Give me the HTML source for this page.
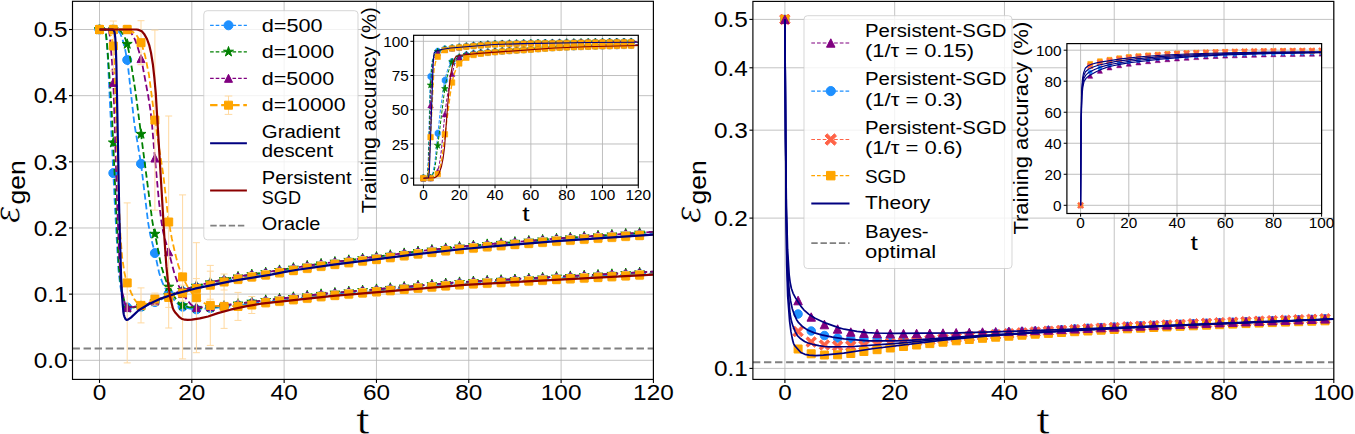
<!DOCTYPE html><html><head><meta charset="utf-8"><style>html,body{margin:0;padding:0;background:#fff;overflow:hidden}svg{display:block}text{font-family:"Liberation Sans",sans-serif;fill:#000}</style></head><body>
<svg width="1355" height="434" viewBox="0 0 1355 434">
<defs>
<clipPath id="cL"><rect x="72.5" y="1.3" width="580.9" height="378.1"/></clipPath>
<clipPath id="cLI"><rect x="413.6" y="35.3" width="224.7" height="149.8"/></clipPath>
<clipPath id="cR"><rect x="752.9" y="1.4" width="580.9" height="378"/></clipPath>
<clipPath id="cRI"><rect x="1066.9" y="43.6" width="254.7" height="169.9"/></clipPath>
</defs>
<rect width="1355" height="434" fill="#fff"/>
<line x1="99.5" y1="1.3" x2="99.5" y2="379.4" stroke="#b8b8b8" stroke-width="0.85"/>
<line x1="191.82" y1="1.3" x2="191.82" y2="379.4" stroke="#b8b8b8" stroke-width="0.85"/>
<line x1="284.14" y1="1.3" x2="284.14" y2="379.4" stroke="#b8b8b8" stroke-width="0.85"/>
<line x1="376.46" y1="1.3" x2="376.46" y2="379.4" stroke="#b8b8b8" stroke-width="0.85"/>
<line x1="468.78" y1="1.3" x2="468.78" y2="379.4" stroke="#b8b8b8" stroke-width="0.85"/>
<line x1="561.1" y1="1.3" x2="561.1" y2="379.4" stroke="#b8b8b8" stroke-width="0.85"/>
<line x1="653.42" y1="1.3" x2="653.42" y2="379.4" stroke="#b8b8b8" stroke-width="0.85"/>
<line x1="72.5" y1="360.3" x2="653.4" y2="360.3" stroke="#b8b8b8" stroke-width="0.85"/>
<line x1="72.5" y1="294.14" x2="653.4" y2="294.14" stroke="#b8b8b8" stroke-width="0.85"/>
<line x1="72.5" y1="227.98" x2="653.4" y2="227.98" stroke="#b8b8b8" stroke-width="0.85"/>
<line x1="72.5" y1="161.82" x2="653.4" y2="161.82" stroke="#b8b8b8" stroke-width="0.85"/>
<line x1="72.5" y1="95.66" x2="653.4" y2="95.66" stroke="#b8b8b8" stroke-width="0.85"/>
<line x1="72.5" y1="29.5" x2="653.4" y2="29.5" stroke="#b8b8b8" stroke-width="0.85"/>
<g clip-path="url(#cL)">
<line x1="72.5" y1="348.39" x2="653.4" y2="348.39" stroke="#808080" stroke-width="2" stroke-dasharray="7.4,3.66"/>
<path d="M99.5,29.5L105.1,29.6L105.8,32.3L106.5,38.9L107.7,55.5L114.7,201.5L118.4,269L120,283.6L121.8,294.6L124.7,303.8L125.9,306.3L126.9,307.3L137.6,307L144.4,306.1L156.5,301.5L168,296.4L180.1,292.3L199.2,286.9L226,280.7L243.9,277.3L323.3,265L420,252.8L469.4,247.4L560.5,239.9L653.4,233.6" fill="none" stroke="#1e90ff" stroke-width="1.8" stroke-dasharray="6.5,3.2" stroke-linejoin="round"/>
<path d="M99.5,29.5L116.5,29.7L118.1,30.9L120.4,33.6L122.4,38.9L125.3,50.2L127.7,63.5L134.3,123.4L141.1,164.4L148.1,222.3L150.3,235L154.7,252.3L159,272.3L160.7,278L162.8,283.5L166.6,290.5L172,297.5L177.3,303.3L179.5,305.1L181.7,306.4L186.6,307.9L191.3,308.9L195.2,309.3L199.3,309.2L209.8,308.1L227.3,306.7L266.2,301.7L327.5,295.1L451.3,284.5L475,282.9L653.4,273.3" fill="none" stroke="#1e90ff" stroke-width="1.8" stroke-dasharray="6.5,3.2" stroke-linejoin="round"/>
<path d="M95,29.5a4.5,4.5 0 1,0 9,0a4.5,4.5 0 1,0 -9,0ZM108.8,173.1a4.5,4.5 0 1,0 9,0a4.5,4.5 0 1,0 -9,0ZM122.7,307.4a4.5,4.5 0 1,0 9,0a4.5,4.5 0 1,0 -9,0ZM136.5,306.7a4.5,4.5 0 1,0 9,0a4.5,4.5 0 1,0 -9,0ZM150.4,302.1a4.5,4.5 0 1,0 9,0a4.5,4.5 0 1,0 -9,0ZM164.2,296.1a4.5,4.5 0 1,0 9,0a4.5,4.5 0 1,0 -9,0ZM178.1,291.5a4.5,4.5 0 1,0 9,0a4.5,4.5 0 1,0 -9,0ZM191.9,287.6a4.5,4.5 0 1,0 9,0a4.5,4.5 0 1,0 -9,0ZM205.8,284.2a4.5,4.5 0 1,0 9,0a4.5,4.5 0 1,0 -9,0ZM219.6,281.1a4.5,4.5 0 1,0 9,0a4.5,4.5 0 1,0 -9,0ZM233.5,278.3a4.5,4.5 0 1,0 9,0a4.5,4.5 0 1,0 -9,0ZM247.3,276a4.5,4.5 0 1,0 9,0a4.5,4.5 0 1,0 -9,0ZM261.2,274.1a4.5,4.5 0 1,0 9,0a4.5,4.5 0 1,0 -9,0ZM275,271.8a4.5,4.5 0 1,0 9,0a4.5,4.5 0 1,0 -9,0ZM288.9,269.5a4.5,4.5 0 1,0 9,0a4.5,4.5 0 1,0 -9,0ZM302.7,267.3a4.5,4.5 0 1,0 9,0a4.5,4.5 0 1,0 -9,0ZM316.6,265.3a4.5,4.5 0 1,0 9,0a4.5,4.5 0 1,0 -9,0ZM330.4,263.4a4.5,4.5 0 1,0 9,0a4.5,4.5 0 1,0 -9,0ZM344.3,261.7a4.5,4.5 0 1,0 9,0a4.5,4.5 0 1,0 -9,0ZM358.1,260.1a4.5,4.5 0 1,0 9,0a4.5,4.5 0 1,0 -9,0ZM372,258.4a4.5,4.5 0 1,0 9,0a4.5,4.5 0 1,0 -9,0ZM385.8,256.6a4.5,4.5 0 1,0 9,0a4.5,4.5 0 1,0 -9,0ZM399.7,254.8a4.5,4.5 0 1,0 9,0a4.5,4.5 0 1,0 -9,0ZM413.5,253a4.5,4.5 0 1,0 9,0a4.5,4.5 0 1,0 -9,0ZM427.4,251.4a4.5,4.5 0 1,0 9,0a4.5,4.5 0 1,0 -9,0ZM441.2,249.9a4.5,4.5 0 1,0 9,0a4.5,4.5 0 1,0 -9,0ZM455,248.4a4.5,4.5 0 1,0 9,0a4.5,4.5 0 1,0 -9,0ZM468.9,247.1a4.5,4.5 0 1,0 9,0a4.5,4.5 0 1,0 -9,0ZM482.7,245.8a4.5,4.5 0 1,0 9,0a4.5,4.5 0 1,0 -9,0ZM496.6,244.7a4.5,4.5 0 1,0 9,0a4.5,4.5 0 1,0 -9,0ZM510.4,243.5a4.5,4.5 0 1,0 9,0a4.5,4.5 0 1,0 -9,0ZM524.3,242.4a4.5,4.5 0 1,0 9,0a4.5,4.5 0 1,0 -9,0ZM538.1,241.3a4.5,4.5 0 1,0 9,0a4.5,4.5 0 1,0 -9,0ZM552,240.2a4.5,4.5 0 1,0 9,0a4.5,4.5 0 1,0 -9,0ZM565.8,239.2a4.5,4.5 0 1,0 9,0a4.5,4.5 0 1,0 -9,0ZM579.7,238.2a4.5,4.5 0 1,0 9,0a4.5,4.5 0 1,0 -9,0ZM593.5,237.2a4.5,4.5 0 1,0 9,0a4.5,4.5 0 1,0 -9,0ZM607.4,236.3a4.5,4.5 0 1,0 9,0a4.5,4.5 0 1,0 -9,0ZM621.2,235.4a4.5,4.5 0 1,0 9,0a4.5,4.5 0 1,0 -9,0ZM635.1,234.5a4.5,4.5 0 1,0 9,0a4.5,4.5 0 1,0 -9,0ZM95,29.5a4.5,4.5 0 1,0 9,0a4.5,4.5 0 1,0 -9,0ZM108.8,29.5a4.5,4.5 0 1,0 9,0a4.5,4.5 0 1,0 -9,0ZM122.7,59.9a4.5,4.5 0 1,0 9,0a4.5,4.5 0 1,0 -9,0ZM136.5,163.8a4.5,4.5 0 1,0 9,0a4.5,4.5 0 1,0 -9,0ZM150.4,253.1a4.5,4.5 0 1,0 9,0a4.5,4.5 0 1,0 -9,0ZM164.2,293.5a4.5,4.5 0 1,0 9,0a4.5,4.5 0 1,0 -9,0ZM178.1,306.7a4.5,4.5 0 1,0 9,0a4.5,4.5 0 1,0 -9,0ZM191.9,309.4a4.5,4.5 0 1,0 9,0a4.5,4.5 0 1,0 -9,0ZM205.8,308a4.5,4.5 0 1,0 9,0a4.5,4.5 0 1,0 -9,0ZM219.6,307a4.5,4.5 0 1,0 9,0a4.5,4.5 0 1,0 -9,0ZM233.5,305.4a4.5,4.5 0 1,0 9,0a4.5,4.5 0 1,0 -9,0ZM247.3,303.5a4.5,4.5 0 1,0 9,0a4.5,4.5 0 1,0 -9,0ZM261.2,301.7a4.5,4.5 0 1,0 9,0a4.5,4.5 0 1,0 -9,0ZM275,300.3a4.5,4.5 0 1,0 9,0a4.5,4.5 0 1,0 -9,0ZM288.9,298.8a4.5,4.5 0 1,0 9,0a4.5,4.5 0 1,0 -9,0ZM302.7,297.2a4.5,4.5 0 1,0 9,0a4.5,4.5 0 1,0 -9,0ZM316.6,295.7a4.5,4.5 0 1,0 9,0a4.5,4.5 0 1,0 -9,0ZM330.4,294.4a4.5,4.5 0 1,0 9,0a4.5,4.5 0 1,0 -9,0ZM344.3,293.2a4.5,4.5 0 1,0 9,0a4.5,4.5 0 1,0 -9,0ZM358.1,292a4.5,4.5 0 1,0 9,0a4.5,4.5 0 1,0 -9,0ZM372,290.8a4.5,4.5 0 1,0 9,0a4.5,4.5 0 1,0 -9,0ZM385.8,289.6a4.5,4.5 0 1,0 9,0a4.5,4.5 0 1,0 -9,0ZM399.7,288.4a4.5,4.5 0 1,0 9,0a4.5,4.5 0 1,0 -9,0ZM413.5,287.2a4.5,4.5 0 1,0 9,0a4.5,4.5 0 1,0 -9,0ZM427.4,286.1a4.5,4.5 0 1,0 9,0a4.5,4.5 0 1,0 -9,0ZM441.2,284.9a4.5,4.5 0 1,0 9,0a4.5,4.5 0 1,0 -9,0ZM455,283.8a4.5,4.5 0 1,0 9,0a4.5,4.5 0 1,0 -9,0ZM468.9,283a4.5,4.5 0 1,0 9,0a4.5,4.5 0 1,0 -9,0ZM482.7,282.2a4.5,4.5 0 1,0 9,0a4.5,4.5 0 1,0 -9,0ZM496.6,281.6a4.5,4.5 0 1,0 9,0a4.5,4.5 0 1,0 -9,0ZM510.4,280.9a4.5,4.5 0 1,0 9,0a4.5,4.5 0 1,0 -9,0ZM524.3,280.1a4.5,4.5 0 1,0 9,0a4.5,4.5 0 1,0 -9,0ZM538.1,279.3a4.5,4.5 0 1,0 9,0a4.5,4.5 0 1,0 -9,0ZM552,278.5a4.5,4.5 0 1,0 9,0a4.5,4.5 0 1,0 -9,0ZM565.8,277.8a4.5,4.5 0 1,0 9,0a4.5,4.5 0 1,0 -9,0ZM579.7,277.1a4.5,4.5 0 1,0 9,0a4.5,4.5 0 1,0 -9,0ZM593.5,276.4a4.5,4.5 0 1,0 9,0a4.5,4.5 0 1,0 -9,0ZM607.4,275.7a4.5,4.5 0 1,0 9,0a4.5,4.5 0 1,0 -9,0ZM621.2,274.9a4.5,4.5 0 1,0 9,0a4.5,4.5 0 1,0 -9,0ZM635.1,274.1a4.5,4.5 0 1,0 9,0a4.5,4.5 0 1,0 -9,0Z" fill="#1e90ff" stroke="#1e90ff" stroke-width="1.0"/>
<path d="M99.5,29.5L105,29.5L105.2,29.7L105.9,33.3L107.1,44.5L110.2,86.2L112.1,118.6L118.7,265.4L120.2,279.9L121.8,290.7L125,303.9L126.1,306.9L127,308L134,307.4L144.7,305.1L156.2,300.9L172.4,294L186.1,289L197.5,285.6L216.1,281.2L230.1,278.1L241.4,276L317,264.2L418.9,251.2L468,245.9L559.6,238.3L653.4,231.9" fill="none" stroke="#008000" stroke-width="1.8" stroke-dasharray="6.5,3.2" stroke-linejoin="round"/>
<path d="M99.5,29.5L118,29.5L119.1,29.8L121.1,31.7L123.7,35.2L125.4,39L127.4,44.7L130.4,59.1L135.6,92.4L152.2,220.3L153.5,228L156,239L160.2,261.1L161.6,267L164,275L166.2,281.1L168.3,286L172.8,294.2L176.2,299.6L179.3,303.2L182.1,305.2L188.5,307.1L194.1,307.9L200.3,308L210.5,307.4L264.1,300.3L323.1,293.9L449,283L474.6,281.2L653.4,271.6" fill="none" stroke="#008000" stroke-width="1.8" stroke-dasharray="6.5,3.2" stroke-linejoin="round"/>
<path d="M99.5,24.2L98.3,27.9L94.5,27.9L97.6,30.1L96.4,33.7L99.5,31.5L102.6,33.7L101.4,30.1L104.5,27.9L100.7,27.9ZM113.3,137.4L112.2,141L108.4,141L111.4,143.3L110.3,146.9L113.3,144.6L116.4,146.9L115.3,143.3L118.3,141L114.5,141ZM127.2,302.8L126,306.4L122.2,306.4L125.3,308.7L124.1,312.3L127.2,310L130.3,312.3L129.1,308.7L132.2,306.4L128.4,306.4ZM141,300.8L139.9,304.4L136.1,304.4L139.1,306.7L138,310.3L141,308.1L144.1,310.3L143,306.7L146,304.4L142.2,304.4ZM154.9,296.2L153.7,299.8L149.9,299.8L153,302L151.8,305.7L154.9,303.4L158,305.7L156.8,302L159.9,299.8L156.1,299.8ZM168.7,290.2L167.6,293.8L163.7,293.8L166.8,296.1L165.7,299.7L168.7,297.5L171.8,299.7L170.6,296.1L173.7,293.8L169.9,293.8ZM182.6,285L181.4,288.6L177.6,288.6L180.7,290.8L179.5,294.5L182.6,292.2L185.7,294.5L184.5,290.8L187.6,288.6L183.8,288.6ZM196.4,280.7L195.3,284.3L191.4,284.3L194.5,286.5L193.4,290.2L196.4,287.9L199.5,290.2L198.3,286.5L201.4,284.3L197.6,284.3ZM210.3,277.3L209.1,280.9L205.3,280.9L208.4,283.2L207.2,286.8L210.3,284.6L213.4,286.8L212.2,283.2L215.3,280.9L211.5,280.9ZM224.1,274.2L223,277.8L219.1,277.8L222.2,280L221,283.6L224.1,281.4L227.2,283.6L226,280L229.1,277.8L225.3,277.8ZM238,271.4L236.8,275L233,275L236.1,277.2L234.9,280.9L238,278.6L241.1,280.9L239.9,277.2L243,275L239.2,275ZM251.8,269.1L250.6,272.8L246.8,272.8L249.9,275L248.7,278.6L251.8,276.4L254.9,278.6L253.7,275L256.8,272.8L253,272.8ZM265.7,267.2L264.5,270.8L260.7,270.8L263.8,273L262.6,276.6L265.7,274.4L268.8,276.6L267.6,273L270.7,270.8L266.9,270.8ZM279.5,264.9L278.3,268.5L274.5,268.5L277.6,270.8L276.4,274.4L279.5,272.1L282.6,274.4L281.4,270.8L284.5,268.5L280.7,268.5ZM293.4,262.6L292.2,266.2L288.4,266.2L291.5,268.5L290.3,272.1L293.4,269.8L296.5,272.1L295.3,268.5L298.4,266.2L294.6,266.2ZM307.2,260.4L306,264.1L302.2,264.1L305.3,266.3L304.1,269.9L307.2,267.7L310.3,269.9L309.1,266.3L312.2,264.1L308.4,264.1ZM321.1,258.4L319.9,262L316.1,262L319.2,264.3L318,267.9L321.1,265.7L324.2,267.9L323,264.3L326.1,262L322.2,262ZM334.9,256.5L333.7,260.2L329.9,260.2L333,262.4L331.8,266L334.9,263.8L338,266L336.8,262.4L339.9,260.2L336.1,260.2ZM348.8,254.8L347.6,258.4L343.8,258.4L346.9,260.7L345.7,264.3L348.8,262.1L351.8,264.3L350.7,260.7L353.8,258.4L349.9,258.4ZM362.6,253.2L361.4,256.8L357.6,256.8L360.7,259.1L359.5,262.7L362.6,260.4L365.7,262.7L364.5,259.1L367.6,256.8L363.8,256.8ZM376.5,251.5L375.3,255.1L371.5,255.1L374.6,257.4L373.4,261L376.5,258.8L379.5,261L378.4,257.4L381.5,255.1L377.6,255.1ZM390.3,249.7L389.1,253.3L385.3,253.3L388.4,255.6L387.2,259.2L390.3,257L393.4,259.2L392.2,255.6L395.3,253.3L391.5,253.3ZM404.2,247.9L403,251.5L399.2,251.5L402.2,253.7L401.1,257.4L404.2,255.1L407.2,257.4L406.1,253.7L409.1,251.5L405.3,251.5ZM418,246.1L416.8,249.7L413,249.7L416.1,252L414.9,255.6L418,253.4L421.1,255.6L419.9,252L423,249.7L419.2,249.7ZM431.9,244.5L430.7,248.1L426.9,248.1L429.9,250.4L428.8,254L431.9,251.7L434.9,254L433.8,250.4L436.8,248.1L433,248.1ZM445.7,242.9L444.5,246.6L440.7,246.6L443.8,248.8L442.6,252.4L445.7,250.2L448.8,252.4L447.6,248.8L450.7,246.6L446.9,246.6ZM459.5,241.5L458.4,245.1L454.6,245.1L457.6,247.4L456.5,251L459.5,248.8L462.6,251L461.5,247.4L464.5,245.1L460.7,245.1ZM473.4,240.2L472.2,243.8L468.4,243.8L471.5,246L470.3,249.7L473.4,247.4L476.5,249.7L475.3,246L478.4,243.8L474.6,243.8ZM487.2,238.9L486.1,242.6L482.3,242.6L485.3,244.8L484.2,248.4L487.2,246.2L490.3,248.4L489.2,244.8L492.2,242.6L488.4,242.6ZM501.1,237.8L499.9,241.4L496.1,241.4L499.2,243.6L498,247.3L501.1,245L504.2,247.3L503,243.6L506.1,241.4L502.3,241.4ZM514.9,236.6L513.8,240.3L509.9,240.3L513,242.5L511.9,246.1L514.9,243.9L518,246.1L516.8,242.5L519.9,240.3L516.1,240.3ZM528.8,235.5L527.6,239.1L523.8,239.1L526.9,241.4L525.7,245L528.8,242.8L531.9,245L530.7,241.4L533.8,239.1L530,239.1ZM542.6,234.4L541.5,238L537.6,238L540.7,240.3L539.6,243.9L542.6,241.7L545.7,243.9L544.5,240.3L547.6,238L543.8,238ZM556.5,233.3L555.3,237L551.5,237L554.6,239.2L553.4,242.8L556.5,240.6L559.6,242.8L558.4,239.2L561.5,237L557.7,237ZM570.3,232.3L569.2,235.9L565.3,235.9L568.4,238.2L567.2,241.8L570.3,239.6L573.4,241.8L572.2,238.2L575.3,235.9L571.5,235.9ZM584.2,231.3L583,234.9L579.2,234.9L582.3,237.2L581.1,240.8L584.2,238.5L587.3,240.8L586.1,237.2L589.2,234.9L585.4,234.9ZM598,230.3L596.8,233.9L593,233.9L596.1,236.2L594.9,239.8L598,237.6L601.1,239.8L599.9,236.2L603,233.9L599.2,233.9ZM611.9,229.4L610.7,233L606.9,233L610,235.2L608.8,238.9L611.9,236.6L615,238.9L613.8,235.2L616.9,233L613.1,233ZM625.7,228.4L624.5,232.1L620.7,232.1L623.8,234.3L622.6,237.9L625.7,235.7L628.8,237.9L627.6,234.3L630.7,232.1L626.9,232.1ZM639.6,227.6L638.4,231.2L634.6,231.2L637.7,233.4L636.5,237.1L639.6,234.8L642.7,237.1L641.5,233.4L644.6,231.2L640.8,231.2ZM99.5,24.2L98.3,27.9L94.5,27.9L97.6,30.1L96.4,33.7L99.5,31.5L102.6,33.7L101.4,30.1L104.5,27.9L100.7,27.9ZM113.3,24.2L112.2,27.9L108.4,27.9L111.4,30.1L110.3,33.7L113.3,31.5L116.4,33.7L115.3,30.1L118.3,27.9L114.5,27.9ZM127.2,38.8L126,42.4L122.2,42.4L125.3,44.7L124.1,48.3L127.2,46.1L130.3,48.3L129.1,44.7L132.2,42.4L128.4,42.4ZM141,128.8L139.9,132.4L136.1,132.4L139.1,134.7L138,138.3L141,136L144.1,138.3L143,134.7L146,132.4L142.2,132.4ZM154.9,228.7L153.7,232.3L149.9,232.3L153,234.6L151.8,238.2L154.9,236L158,238.2L156.8,234.6L159.9,232.3L156.1,232.3ZM168.7,281.6L167.6,285.2L163.7,285.2L166.8,287.5L165.7,291.1L168.7,288.9L171.8,291.1L170.6,287.5L173.7,285.2L169.9,285.2ZM182.6,300.1L181.4,303.8L177.6,303.8L180.7,306L179.5,309.6L182.6,307.4L185.7,309.6L184.5,306L187.6,303.8L183.8,303.8ZM196.4,302.8L195.3,306.4L191.4,306.4L194.5,308.7L193.4,312.3L196.4,310L199.5,312.3L198.3,308.7L201.4,306.4L197.6,306.4ZM210.3,302.1L209.1,305.7L205.3,305.7L208.4,308L207.2,311.6L210.3,309.4L213.4,311.6L212.2,308L215.3,305.7L211.5,305.7ZM224.1,300.5L223,304.1L219.1,304.1L222.2,306.3L221,310L224.1,307.7L227.2,310L226,306.3L229.1,304.1L225.3,304.1ZM238,298.5L236.8,302.1L233,302.1L236.1,304.4L234.9,308L238,305.7L241.1,308L239.9,304.4L243,302.1L239.2,302.1ZM251.8,296.6L250.6,300.2L246.8,300.2L249.9,302.5L248.7,306.1L251.8,303.8L254.9,306.1L253.7,302.5L256.8,300.2L253,300.2ZM265.7,294.8L264.5,298.5L260.7,298.5L263.8,300.7L262.6,304.3L265.7,302.1L268.8,304.3L267.6,300.7L270.7,298.5L266.9,298.5ZM279.5,293.3L278.3,297L274.5,297L277.6,299.2L276.4,302.8L279.5,300.6L282.6,302.8L281.4,299.2L284.5,297L280.7,297ZM293.4,291.8L292.2,295.5L288.4,295.5L291.5,297.7L290.3,301.3L293.4,299.1L296.5,301.3L295.3,297.7L298.4,295.5L294.6,295.5ZM307.2,290.3L306,293.9L302.2,293.9L305.3,296.2L304.1,299.8L307.2,297.6L310.3,299.8L309.1,296.2L312.2,293.9L308.4,293.9ZM321.1,288.8L319.9,292.4L316.1,292.4L319.2,294.7L318,298.3L321.1,296.1L324.2,298.3L323,294.7L326.1,292.4L322.2,292.4ZM334.9,287.5L333.7,291.1L329.9,291.1L333,293.3L331.8,297L334.9,294.7L338,297L336.8,293.3L339.9,291.1L336.1,291.1ZM348.8,286.2L347.6,289.9L343.8,289.9L346.9,292.1L345.7,295.7L348.8,293.5L351.8,295.7L350.7,292.1L353.8,289.9L349.9,289.9ZM362.6,285.1L361.4,288.7L357.6,288.7L360.7,291L359.5,294.6L362.6,292.3L365.7,294.6L364.5,291L367.6,288.7L363.8,288.7ZM376.5,283.9L375.3,287.6L371.5,287.6L374.6,289.8L373.4,293.4L376.5,291.2L379.5,293.4L378.4,289.8L381.5,287.6L377.6,287.6ZM390.3,282.7L389.1,286.4L385.3,286.4L388.4,288.6L387.2,292.2L390.3,290L393.4,292.2L392.2,288.6L395.3,286.4L391.5,286.4ZM404.2,281.5L403,285.1L399.2,285.1L402.2,287.4L401.1,291L404.2,288.8L407.2,291L406.1,287.4L409.1,285.1L405.3,285.1ZM418,280.3L416.8,284L413,284L416.1,286.2L414.9,289.8L418,287.6L421.1,289.8L419.9,286.2L423,284L419.2,284ZM431.9,279.2L430.7,282.8L426.9,282.8L429.9,285.1L428.8,288.7L431.9,286.4L434.9,288.7L433.8,285.1L436.8,282.8L433,282.8ZM445.7,278L444.5,281.6L440.7,281.6L443.8,283.9L442.6,287.5L445.7,285.3L448.8,287.5L447.6,283.9L450.7,281.6L446.9,281.6ZM459.5,276.9L458.4,280.6L454.6,280.6L457.6,282.8L456.5,286.4L459.5,284.2L462.6,286.4L461.5,282.8L464.5,280.6L460.7,280.6ZM473.4,276L472.2,279.7L468.4,279.7L471.5,281.9L470.3,285.5L473.4,283.3L476.5,285.5L475.3,281.9L478.4,279.7L474.6,279.7ZM487.2,275.3L486.1,279L482.3,279L485.3,281.2L484.2,284.8L487.2,282.6L490.3,284.8L489.2,281.2L492.2,279L488.4,279ZM501.1,274.7L499.9,278.3L496.1,278.3L499.2,280.6L498,284.2L501.1,281.9L504.2,284.2L503,280.6L506.1,278.3L502.3,278.3ZM514.9,274L513.8,277.6L509.9,277.6L513,279.9L511.9,283.5L514.9,281.3L518,283.5L516.8,279.9L519.9,277.6L516.1,277.6ZM528.8,273.2L527.6,276.9L523.8,276.9L526.9,279.1L525.7,282.7L528.8,280.5L531.9,282.7L530.7,279.1L533.8,276.9L530,276.9ZM542.6,272.4L541.5,276L537.6,276L540.7,278.3L539.6,281.9L542.6,279.7L545.7,281.9L544.5,278.3L547.6,276L543.8,276ZM556.5,271.6L555.3,275.2L551.5,275.2L554.6,277.5L553.4,281.1L556.5,278.9L559.6,281.1L558.4,277.5L561.5,275.2L557.7,275.2ZM570.3,270.9L569.2,274.5L565.3,274.5L568.4,276.7L567.2,280.4L570.3,278.1L573.4,280.4L572.2,276.7L575.3,274.5L571.5,274.5ZM584.2,270.2L583,273.8L579.2,273.8L582.3,276.1L581.1,279.7L584.2,277.5L587.3,279.7L586.1,276.1L589.2,273.8L585.4,273.8ZM598,269.5L596.8,273.1L593,273.1L596.1,275.4L594.9,279L598,276.8L601.1,279L599.9,275.4L603,273.1L599.2,273.1ZM611.9,268.8L610.7,272.4L606.9,272.4L610,274.7L608.8,278.3L611.9,276L615,278.3L613.8,274.7L616.9,272.4L613.1,272.4ZM625.7,268L624.5,271.7L620.7,271.7L623.8,273.9L622.6,277.5L625.7,275.3L628.8,277.5L627.6,273.9L630.7,271.7L626.9,271.7ZM639.6,267.2L638.4,270.9L634.6,270.9L637.7,273.1L636.5,276.7L639.6,274.5L642.7,276.7L641.5,273.1L644.6,270.9L640.8,270.9Z" fill="#008000" stroke="#008000" stroke-width="1.0"/>
<path d="M99.5,29.5L108.8,29.6L109.8,35.9L112.1,62.5L113.5,86.6L116.9,196.1L119.3,259.6L120.8,280.3L122.2,292.2L124.9,303.4L126,306.2L127,307.3L133.7,306.8L144,304.7L189,288.1L199.7,285.1L220,280.3L242.3,275.9L318.9,264L419.3,251.2L468.5,245.9L560,238.3L653.4,231.9" fill="none" stroke="#800080" stroke-width="1.8" stroke-dasharray="6.5,3.2" stroke-linejoin="round"/>
<path d="M99.5,29.5L127.9,29.7L130.2,31.6L133.5,36.6L135.1,39.9L137,44.8L140.1,55.2L142.3,64.3L148.2,95.9L150.3,109.3L151.9,122.8L153.9,146.9L159.1,202.9L161.4,221.5L163.3,232.6L165,239.3L168.7,251.8L174.4,273.5L179.1,286.7L181.9,292.6L187.2,300.2L191,304.6L194.3,306.9L196.1,307.4L199.2,307.3L215.3,306.3L232.5,304.4L266.9,300L326.5,293.5L454.6,282.6L475.3,281.2L653.4,271.6" fill="none" stroke="#800080" stroke-width="1.8" stroke-dasharray="6.5,3.2" stroke-linejoin="round"/>
<path d="M99.5,25.5L103.5,33.5L95.5,33.5ZM113.3,78.4L117.3,86.4L109.3,86.4ZM127.2,303.4L131.2,311.4L123.2,311.4ZM141,301.4L145,309.4L137,309.4ZM154.9,296.8L158.9,304.8L150.9,304.8ZM168.7,291.5L172.7,299.5L164.7,299.5ZM182.6,286.3L186.6,294.3L178.6,294.3ZM196.4,281.9L200.4,289.9L192.4,289.9ZM210.3,278.6L214.3,286.6L206.3,286.6ZM224.1,275.4L228.1,283.4L220.1,283.4ZM238,272.6L242,280.6L234,280.6ZM251.8,270.4L255.8,278.4L247.8,278.4ZM265.7,268.4L269.7,276.4L261.7,276.4ZM279.5,266.1L283.5,274.1L275.5,274.1ZM293.4,263.8L297.4,271.8L289.4,271.8ZM307.2,261.7L311.2,269.7L303.2,269.7ZM321.1,259.7L325.1,267.7L317.1,267.7ZM334.9,257.8L338.9,265.8L330.9,265.8ZM348.8,256.1L352.8,264.1L344.8,264.1ZM362.6,254.4L366.6,262.4L358.6,262.4ZM376.5,252.8L380.5,260.8L372.5,260.8ZM390.3,251L394.3,259L386.3,259ZM404.2,249.1L408.2,257.1L400.2,257.1ZM418,247.4L422,255.4L414,255.4ZM431.9,245.7L435.9,253.7L427.9,253.7ZM445.7,244.2L449.7,252.2L441.7,252.2ZM459.5,242.8L463.5,250.8L455.5,250.8ZM473.4,241.4L477.4,249.4L469.4,249.4ZM487.2,240.2L491.2,248.2L483.2,248.2ZM501.1,239L505.1,247L497.1,247ZM514.9,237.9L518.9,245.9L510.9,245.9ZM528.8,236.7L532.8,244.7L524.8,244.7ZM542.6,235.7L546.6,243.7L538.6,243.7ZM556.5,234.6L560.5,242.6L552.5,242.6ZM570.3,233.5L574.3,241.5L566.3,241.5ZM584.2,232.5L588.2,240.5L580.2,240.5ZM598,231.6L602,239.6L594,239.6ZM611.9,230.6L615.9,238.6L607.9,238.6ZM625.7,229.7L629.7,237.7L621.7,237.7ZM639.6,228.8L643.6,236.8L635.6,236.8ZM99.5,25.5L103.5,33.5L95.5,33.5ZM113.3,25.5L117.3,33.5L109.3,33.5ZM127.2,25.5L131.2,33.5L123.2,33.5ZM141,54.6L145,62.6L137,62.6ZM154.9,154L158.9,162L150.9,162ZM168.7,247.8L172.7,255.8L164.7,255.8ZM182.6,289.6L186.6,297.6L178.6,297.6ZM196.4,303.4L200.4,311.4L192.4,311.4ZM210.3,302.7L214.3,310.7L206.3,310.7ZM224.1,301.4L228.1,309.4L220.1,309.4ZM238,299.7L242,307.7L234,307.7ZM251.8,297.9L255.8,305.9L247.8,305.9ZM265.7,296.1L269.7,304.1L261.7,304.1ZM279.5,294.6L283.5,302.6L275.5,302.6ZM293.4,293.1L297.4,301.1L289.4,301.1ZM307.2,291.6L311.2,299.6L303.2,299.6ZM321.1,290.1L325.1,298.1L317.1,298.1ZM334.9,288.7L338.9,296.7L330.9,296.7ZM348.8,287.5L352.8,295.5L344.8,295.5ZM362.6,286.3L366.6,294.3L358.6,294.3ZM376.5,285.2L380.5,293.2L372.5,293.2ZM390.3,284L394.3,292L386.3,292ZM404.2,282.8L408.2,290.8L400.2,290.8ZM418,281.6L422,289.6L414,289.6ZM431.9,280.4L435.9,288.4L427.9,288.4ZM445.7,279.3L449.7,287.3L441.7,287.3ZM459.5,278.2L463.5,286.2L455.5,286.2ZM473.4,277.3L477.4,285.3L469.4,285.3ZM487.2,276.6L491.2,284.6L483.2,284.6ZM501.1,275.9L505.1,283.9L497.1,283.9ZM514.9,275.3L518.9,283.3L510.9,283.3ZM528.8,274.5L532.8,282.5L524.8,282.5ZM542.6,273.7L546.6,281.7L538.6,281.7ZM556.5,272.9L560.5,280.9L552.5,280.9ZM570.3,272.1L574.3,280.1L566.3,280.1ZM584.2,271.4L588.2,279.4L580.2,279.4ZM598,270.8L602,278.8L594,278.8ZM611.9,270L615.9,278L607.9,278ZM625.7,269.3L629.7,277.3L621.7,277.3ZM639.6,268.5L643.6,276.5L635.6,276.5Z" fill="#800080" stroke="#800080" stroke-width="1.0"/>
<path d="M99.5,29.5L109,29.7L109.7,31.4L112.1,39.8L113.3,45.4L114.4,65.6L118.9,204.7L120.5,236.2L122.1,257.1L124.4,272.5L125.7,278.2L127.1,282.6L131,292.3L134.2,298.9L137.2,303.1L139.8,305.2L141.7,305.4L144.1,304.7L151.6,300.4L154.2,299.3L167.3,297.7L171.4,296.9L193,289.5L205.6,286.3L227.5,281.3L244.5,278.1L326.7,265.5L420.5,253.7L470.2,248.4L561,240.9L653.4,234.6" fill="none" stroke="#ffa500" stroke-width="1.8" stroke-dasharray="6.5,3.2" stroke-linejoin="round"/>
<path d="M99.5,29.5L127.3,29.5L129.2,29.9L133,32L136.2,34.7L139,38.9L141.8,44.4L145.2,56.3L148.9,74.4L154.9,120.1L163.4,175.6L168.4,219.7L171.8,238.4L175.4,254.6L178.2,265.1L181.1,273.4L184.5,281L188.4,288L191.9,293L195.4,296.8L201.3,301.4L206.1,304.2L209.9,305.3L219.1,306.2L241.8,306.2L248.4,305.5L265.6,302.8L326.8,296.1L453.5,285.3L475.2,283.8L653.4,274.3" fill="none" stroke="#ffa500" stroke-width="1.8" stroke-dasharray="6.5,3.2" stroke-linejoin="round"/>
<path d="M113.3,21V71M109.8,21H116.8M109.8,71H116.8M127.2,202.9V362.9M123.7,202.9H130.7M123.7,362.9H130.7M141,287.9V322.9M137.5,287.9H144.5M137.5,322.9H144.5M154.9,293.1V305.1M151.4,293.1H158.4M151.4,305.1H158.4M168.7,287.4V307.4M165.2,287.4H172.2M165.2,307.4H172.2M182.6,285.1V301.1M179.1,285.1H186.1M179.1,301.1H186.1M196.4,278.6V298.6M192.9,278.6H199.9M192.9,298.6H199.9M210.3,271.2V299.2M206.8,271.2H213.8M206.8,299.2H213.8M224.1,274V290M220.6,274H227.6M220.6,290H227.6M238,274.8V283.8M234.5,274.8H241.5M234.5,283.8H241.5M251.8,272.5V281.5M248.3,272.5H255.3M248.3,281.5H255.3M265.7,270.5V279.5M262.2,270.5H269.2M262.2,279.5H269.2M279.5,268.3V277.3M276,268.3H283M276,277.3H283M293.4,266V275M289.9,266H296.9M289.9,275H296.9M307.2,263.8V272.8M303.7,263.8H310.7M303.7,272.8H310.7M321.1,261.8V270.8M317.6,261.8H324.6M317.6,270.8H324.6M334.9,259.9V268.9M331.4,259.9H338.4M331.4,268.9H338.4M348.8,258.2V267.2M345.3,258.2H352.3M345.3,267.2H352.3M362.6,256.6V265.6M359.1,256.6H366.1M359.1,265.6H366.1M376.5,254.9V263.9M373,254.9H380M373,263.9H380M390.3,253.1V262.1M386.8,253.1H393.8M386.8,262.1H393.8M404.2,251.3V260.3M400.7,251.3H407.7M400.7,260.3H407.7M418,249.5V258.5M414.5,249.5H421.5M414.5,258.5H421.5M431.9,247.9V256.9M428.4,247.9H435.4M428.4,256.9H435.4M445.7,246.3V255.3M442.2,246.3H449.2M442.2,255.3H449.2M459.5,244.9V253.9M456,244.9H463M456,253.9H463M473.4,243.6V252.6M469.9,243.6H476.9M469.9,252.6H476.9M487.2,242.3V251.3M483.7,242.3H490.7M483.7,251.3H490.7M501.1,241.2V250.2M497.6,241.2H504.6M497.6,250.2H504.6M514.9,240V249M511.4,240H518.4M511.4,249H518.4M528.8,238.9V247.9M525.3,238.9H532.3M525.3,247.9H532.3M542.6,237.8V246.8M539.1,237.8H546.1M539.1,246.8H546.1M556.5,236.7V245.7M553,236.7H560M553,245.7H560M570.3,235.7V244.7M566.8,235.7H573.8M566.8,244.7H573.8M584.2,234.7V243.7M580.7,234.7H587.7M580.7,243.7H587.7M598,233.7V242.7M594.5,233.7H601.5M594.5,242.7H601.5M611.9,232.8V241.8M608.4,232.8H615.4M608.4,241.8H615.4M625.7,231.8V240.8M622.2,231.8H629.2M622.2,240.8H629.2M639.6,231V240M636.1,231H643.1M636.1,240H643.1M99.5,25V34M96,25H103M96,34H103M113.3,25V34M109.8,25H116.8M109.8,34H116.8M127.2,25V34M123.7,25H130.7M123.7,34H130.7M141,20.7V64.7M137.5,20.7H144.5M137.5,64.7H144.5M154.9,30.1V210.1M151.4,30.1H158.4M151.4,210.1H158.4M168.7,116V328M165.2,116H172.2M165.2,328H172.2M182.6,194.9V358.9M179.1,194.9H186.1M179.1,358.9H186.1M196.4,242.7V352.7M192.9,242.7H199.9M192.9,352.7H199.9M210.3,265.4V345.4M206.8,265.4H213.8M206.8,345.4H213.8M224.1,284.4V328.4M220.6,284.4H227.6M220.6,328.4H227.6M238,292.4V320.4M234.5,292.4H241.5M234.5,320.4H241.5M251.8,296.5V313.5M248.3,296.5H255.3M248.3,313.5H255.3M265.7,298.2V307.2M262.2,298.2H269.2M262.2,307.2H269.2M279.5,296.7V305.7M276,296.7H283M276,305.7H283M293.4,295.2V304.2M289.9,295.2H296.9M289.9,304.2H296.9M307.2,293.7V302.7M303.7,293.7H310.7M303.7,302.7H310.7M321.1,292.2V301.2M317.6,292.2H324.6M317.6,301.2H324.6M334.9,290.9V299.9M331.4,290.9H338.4M331.4,299.9H338.4M348.8,289.6V298.6M345.3,289.6H352.3M345.3,298.6H352.3M362.6,288.5V297.5M359.1,288.5H366.1M359.1,297.5H366.1M376.5,287.3V296.3M373,287.3H380M373,296.3H380M390.3,286.1V295.1M386.8,286.1H393.8M386.8,295.1H393.8M404.2,284.9V293.9M400.7,284.9H407.7M400.7,293.9H407.7M418,283.7V292.7M414.5,283.7H421.5M414.5,292.7H421.5M431.9,282.6V291.6M428.4,282.6H435.4M428.4,291.6H435.4M445.7,281.4V290.4M442.2,281.4H449.2M442.2,290.4H449.2M459.5,280.3V289.3M456,280.3H463M456,289.3H463M473.4,279.4V288.4M469.9,279.4H476.9M469.9,288.4H476.9M487.2,278.7V287.7M483.7,278.7H490.7M483.7,287.7H490.7M501.1,278.1V287.1M497.6,278.1H504.6M497.6,287.1H504.6M514.9,277.4V286.4M511.4,277.4H518.4M511.4,286.4H518.4M528.8,276.6V285.6M525.3,276.6H532.3M525.3,285.6H532.3M542.6,275.8V284.8M539.1,275.8H546.1M539.1,284.8H546.1M556.5,275V284M553,275H560M553,284H560M570.3,274.3V283.3M566.8,274.3H573.8M566.8,283.3H573.8M584.2,273.6V282.6M580.7,273.6H587.7M580.7,282.6H587.7M598,272.9V281.9M594.5,272.9H601.5M594.5,281.9H601.5M611.9,272.2V281.2M608.4,272.2H615.4M608.4,281.2H615.4M625.7,271.4V280.4M622.2,271.4H629.2M622.2,280.4H629.2M639.6,270.6V279.6M636.1,270.6H643.1M636.1,279.6H643.1" fill="none" stroke="#ffd9a0" stroke-width="1.0"/>
<path d="M95.5,25.5L103.5,25.5L103.5,33.5L95.5,33.5ZM109.3,42L117.3,42L117.3,50L109.3,50ZM123.2,278.9L131.2,278.9L131.2,286.9L123.2,286.9ZM137,301.4L145,301.4L145,309.4L137,309.4ZM150.9,295.1L158.9,295.1L158.9,303.1L150.9,303.1ZM164.7,293.4L172.7,293.4L172.7,301.4L164.7,301.4ZM178.6,289.1L186.6,289.1L186.6,297.1L178.6,297.1ZM192.4,284.6L200.4,284.6L200.4,292.6L192.4,292.6ZM206.3,281.2L214.3,281.2L214.3,289.2L206.3,289.2ZM220.1,278L228.1,278L228.1,286L220.1,286ZM234,275.3L242,275.3L242,283.3L234,283.3ZM247.8,273L255.8,273L255.8,281L247.8,281ZM261.7,271L269.7,271L269.7,279L261.7,279ZM275.5,268.8L283.5,268.8L283.5,276.8L275.5,276.8ZM289.4,266.5L297.4,266.5L297.4,274.5L289.4,274.5ZM303.2,264.3L311.2,264.3L311.2,272.3L303.2,272.3ZM317.1,262.3L325.1,262.3L325.1,270.3L317.1,270.3ZM330.9,260.4L338.9,260.4L338.9,268.4L330.9,268.4ZM344.8,258.7L352.8,258.7L352.8,266.7L344.8,266.7ZM358.6,257.1L366.6,257.1L366.6,265.1L358.6,265.1ZM372.5,255.4L380.5,255.4L380.5,263.4L372.5,263.4ZM386.3,253.6L394.3,253.6L394.3,261.6L386.3,261.6ZM400.2,251.8L408.2,251.8L408.2,259.8L400.2,259.8ZM414,250L422,250L422,258L414,258ZM427.9,248.4L435.9,248.4L435.9,256.4L427.9,256.4ZM441.7,246.8L449.7,246.8L449.7,254.8L441.7,254.8ZM455.5,245.4L463.5,245.4L463.5,253.4L455.5,253.4ZM469.4,244.1L477.4,244.1L477.4,252.1L469.4,252.1ZM483.2,242.8L491.2,242.8L491.2,250.8L483.2,250.8ZM497.1,241.7L505.1,241.7L505.1,249.7L497.1,249.7ZM510.9,240.5L518.9,240.5L518.9,248.5L510.9,248.5ZM524.8,239.4L532.8,239.4L532.8,247.4L524.8,247.4ZM538.6,238.3L546.6,238.3L546.6,246.3L538.6,246.3ZM552.5,237.2L560.5,237.2L560.5,245.2L552.5,245.2ZM566.3,236.2L574.3,236.2L574.3,244.2L566.3,244.2ZM580.2,235.2L588.2,235.2L588.2,243.2L580.2,243.2ZM594,234.2L602,234.2L602,242.2L594,242.2ZM607.9,233.3L615.9,233.3L615.9,241.3L607.9,241.3ZM621.7,232.3L629.7,232.3L629.7,240.3L621.7,240.3ZM635.6,231.5L643.6,231.5L643.6,239.5L635.6,239.5ZM95.5,25.5L103.5,25.5L103.5,33.5L95.5,33.5ZM109.3,25.5L117.3,25.5L117.3,33.5L109.3,33.5ZM123.2,25.5L131.2,25.5L131.2,33.5L123.2,33.5ZM137,38.7L145,38.7L145,46.7L137,46.7ZM150.9,116.1L158.9,116.1L158.9,124.1L150.9,124.1ZM164.7,218L172.7,218L172.7,226L164.7,226ZM178.6,272.9L186.6,272.9L186.6,280.9L178.6,280.9ZM192.4,293.7L200.4,293.7L200.4,301.7L192.4,301.7ZM206.3,301.4L214.3,301.4L214.3,309.4L206.3,309.4ZM220.1,302.4L228.1,302.4L228.1,310.4L220.1,310.4ZM234,302.4L242,302.4L242,310.4L234,310.4ZM247.8,301L255.8,301L255.8,309L247.8,309ZM261.7,298.7L269.7,298.7L269.7,306.7L261.7,306.7ZM275.5,297.2L283.5,297.2L283.5,305.2L275.5,305.2ZM289.4,295.7L297.4,295.7L297.4,303.7L289.4,303.7ZM303.2,294.2L311.2,294.2L311.2,302.2L303.2,302.2ZM317.1,292.7L325.1,292.7L325.1,300.7L317.1,300.7ZM330.9,291.4L338.9,291.4L338.9,299.4L330.9,299.4ZM344.8,290.1L352.8,290.1L352.8,298.1L344.8,298.1ZM358.6,289L366.6,289L366.6,297L358.6,297ZM372.5,287.8L380.5,287.8L380.5,295.8L372.5,295.8ZM386.3,286.6L394.3,286.6L394.3,294.6L386.3,294.6ZM400.2,285.4L408.2,285.4L408.2,293.4L400.2,293.4ZM414,284.2L422,284.2L422,292.2L414,292.2ZM427.9,283.1L435.9,283.1L435.9,291.1L427.9,291.1ZM441.7,281.9L449.7,281.9L449.7,289.9L441.7,289.9ZM455.5,280.8L463.5,280.8L463.5,288.8L455.5,288.8ZM469.4,279.9L477.4,279.9L477.4,287.9L469.4,287.9ZM483.2,279.2L491.2,279.2L491.2,287.2L483.2,287.2ZM497.1,278.6L505.1,278.6L505.1,286.6L497.1,286.6ZM510.9,277.9L518.9,277.9L518.9,285.9L510.9,285.9ZM524.8,277.1L532.8,277.1L532.8,285.1L524.8,285.1ZM538.6,276.3L546.6,276.3L546.6,284.3L538.6,284.3ZM552.5,275.5L560.5,275.5L560.5,283.5L552.5,283.5ZM566.3,274.8L574.3,274.8L574.3,282.8L566.3,282.8ZM580.2,274.1L588.2,274.1L588.2,282.1L580.2,282.1ZM594,273.4L602,273.4L602,281.4L594,281.4ZM607.9,272.7L615.9,272.7L615.9,280.7L607.9,280.7ZM621.7,271.9L629.7,271.9L629.7,279.9L621.7,279.9ZM635.6,271.1L643.6,271.1L643.6,279.1L635.6,279.1Z" fill="#ffa500" stroke="#ffa500" stroke-width="1.0"/>
<path d="M99.5,29.5L112.9,29.6L113.7,30.5L114.5,32L115.3,38.2L115.8,46.2L116.4,65L119.3,214.7L121.1,277.4L122,296.1L123.4,312.2L123.9,315L124.6,317.1L125.5,319L126.5,319.9L127.9,319.6L130.9,317.6L138.7,310.3L149.1,304L160.3,298.8L174.8,293.9L194.8,288.7L231.5,281.1L243.1,279.1L269.9,274.9L283.7,272.1L295.8,270L333.6,264.6L415,254.4L463.1,249L495.3,246.1L556.4,241.2L653.4,234.6" fill="none" stroke="#000080" stroke-width="2.2" stroke-linejoin="round"/>
<path d="M99.5,29.5L136.5,29.5L138.7,29.9L141.8,31.3L144.1,33.9L147,39L149.2,45.1L151,52.8L152.9,64.5L154.3,77.1L155.8,93.7L164.6,241L166.4,266.2L167.9,281.7L170.1,297.1L172.9,308.4L174,310.7L175.5,312.8L179.7,317.4L181.5,318.7L184.8,319.7L187.6,319.9L191.8,319.6L199.8,318.4L208.1,316.5L217.9,313.1L230.5,309.7L246.9,306.2L261.3,303.7L333.1,295.9L464.9,284.8L653.4,274.6" fill="none" stroke="#8b0000" stroke-width="2.2" stroke-linejoin="round"/>
</g>
<rect x="72.5" y="1.3" width="580.9" height="378.1" fill="none" stroke="#000" stroke-width="1.15"/>
<line x1="99.5" y1="379.4" x2="99.5" y2="382.9" stroke="#000" stroke-width="1.1"/>
<line x1="191.82" y1="379.4" x2="191.82" y2="382.9" stroke="#000" stroke-width="1.1"/>
<line x1="284.14" y1="379.4" x2="284.14" y2="382.9" stroke="#000" stroke-width="1.1"/>
<line x1="376.46" y1="379.4" x2="376.46" y2="382.9" stroke="#000" stroke-width="1.1"/>
<line x1="468.78" y1="379.4" x2="468.78" y2="382.9" stroke="#000" stroke-width="1.1"/>
<line x1="561.1" y1="379.4" x2="561.1" y2="382.9" stroke="#000" stroke-width="1.1"/>
<line x1="653.42" y1="379.4" x2="653.42" y2="382.9" stroke="#000" stroke-width="1.1"/>
<line x1="69" y1="360.3" x2="72.5" y2="360.3" stroke="#000" stroke-width="1.1"/>
<line x1="69" y1="294.14" x2="72.5" y2="294.14" stroke="#000" stroke-width="1.1"/>
<line x1="69" y1="227.98" x2="72.5" y2="227.98" stroke="#000" stroke-width="1.1"/>
<line x1="69" y1="161.82" x2="72.5" y2="161.82" stroke="#000" stroke-width="1.1"/>
<line x1="69" y1="95.66" x2="72.5" y2="95.66" stroke="#000" stroke-width="1.1"/>
<line x1="69" y1="29.5" x2="72.5" y2="29.5" stroke="#000" stroke-width="1.1"/>
<text transform="translate(67.6,368.1)" x="-33.87" font-size="22.58" textLength="33.87" lengthAdjust="spacingAndGlyphs">0.0</text>
<text transform="translate(67.6,301.94)" x="-33.87" font-size="22.58" textLength="33.87" lengthAdjust="spacingAndGlyphs">0.1</text>
<text transform="translate(67.6,235.78)" x="-33.87" font-size="22.58" textLength="33.87" lengthAdjust="spacingAndGlyphs">0.2</text>
<text transform="translate(67.6,169.62)" x="-33.87" font-size="22.58" textLength="33.87" lengthAdjust="spacingAndGlyphs">0.3</text>
<text transform="translate(67.6,103.46)" x="-33.87" font-size="22.58" textLength="33.87" lengthAdjust="spacingAndGlyphs">0.4</text>
<text transform="translate(67.6,37.3)" x="-33.87" font-size="22.58" textLength="33.87" lengthAdjust="spacingAndGlyphs">0.5</text>
<text transform="translate(99.5,400.3)" x="-6.78" font-size="22.58" textLength="13.55" lengthAdjust="spacingAndGlyphs">0</text>
<text transform="translate(191.82,400.3)" x="-13.55" font-size="22.58" textLength="27.1" lengthAdjust="spacingAndGlyphs">20</text>
<text transform="translate(284.14,400.3)" x="-13.55" font-size="22.58" textLength="27.1" lengthAdjust="spacingAndGlyphs">40</text>
<text transform="translate(376.46,400.3)" x="-13.55" font-size="22.58" textLength="27.1" lengthAdjust="spacingAndGlyphs">60</text>
<text transform="translate(468.78,400.3)" x="-13.55" font-size="22.58" textLength="27.1" lengthAdjust="spacingAndGlyphs">80</text>
<text transform="translate(561.1,400.3)" x="-20.33" font-size="22.58" textLength="40.66" lengthAdjust="spacingAndGlyphs">100</text>
<text transform="translate(653.42,400.3)" x="-20.33" font-size="22.58" textLength="40.66" lengthAdjust="spacingAndGlyphs">120</text>
<text transform="translate(362.6,433.6)" x="-6.96" font-size="37.63" textLength="13.92" lengthAdjust="spacingAndGlyphs" stroke="#fff" stroke-width="0.8">t</text>
<rect x="203.8" y="10.7" width="154.2" height="229.1" rx="3.5" fill="#fff" fill-opacity="0.8" stroke="#cccccc" stroke-opacity="0.8" stroke-width="1"/>
<line x1="210.1" y1="25.3" x2="246.9" y2="25.3" stroke="#1e90ff" stroke-width="1.2" stroke-dasharray="3.6,2.0"/>
<path d="M224,25.3a4.5,4.5 0 1,0 9,0a4.5,4.5 0 1,0 -9,0Z" fill="#1e90ff" stroke="#1e90ff" stroke-width="1.0"/>
<text transform="translate(261.8,31.5)" x="0" font-size="19.08" textLength="60.86" lengthAdjust="spacingAndGlyphs">d=500</text>
<line x1="210.1" y1="51.8" x2="246.9" y2="51.8" stroke="#008000" stroke-width="1.2" stroke-dasharray="3.6,2.0"/>
<path d="M228.5,46.5L227.3,50.2L223.5,50.2L226.6,52.4L225.4,56L228.5,53.8L231.6,56L230.4,52.4L233.5,50.2L229.7,50.2Z" fill="#008000" stroke="#008000" stroke-width="1.0"/>
<text transform="translate(261.8,58)" x="0" font-size="19.08" textLength="72.32" lengthAdjust="spacingAndGlyphs">d=1000</text>
<line x1="210.1" y1="78.3" x2="246.9" y2="78.3" stroke="#800080" stroke-width="1.2" stroke-dasharray="3.6,2.0"/>
<path d="M228.5,74.3L232.5,82.3L224.5,82.3Z" fill="#800080" stroke="#800080" stroke-width="1.0"/>
<text transform="translate(261.8,84.5)" x="0" font-size="19.08" textLength="72.32" lengthAdjust="spacingAndGlyphs">d=5000</text>
<line x1="210.1" y1="105.2" x2="246.9" y2="105.2" stroke="#ffa500" stroke-width="2.2" stroke-dasharray="7.4,3.66"/>
<path d="M228.5,96V114.4M224.7,96H232.3M224.7,114.4H232.3" fill="none" stroke="#ffd9a0" stroke-width="1.0"/>
<path d="M224.5,101.2L232.5,101.2L232.5,109.2L224.5,109.2Z" fill="#ffa500" stroke="#ffa500" stroke-width="1.0"/>
<text transform="translate(261.8,111.4)" x="0" font-size="19.08" textLength="83.77" lengthAdjust="spacingAndGlyphs">d=10000</text>
<line x1="210.1" y1="143.2" x2="246.9" y2="143.2" stroke="#000080" stroke-width="2"/>
<text transform="translate(261.8,138.2)" x="0" font-size="19.08" textLength="78.35" lengthAdjust="spacingAndGlyphs">Gradient</text>
<text transform="translate(261.8,157.4)" x="0" font-size="19.08" textLength="71.31" lengthAdjust="spacingAndGlyphs">descent</text>
<line x1="210.1" y1="190.6" x2="246.9" y2="190.6" stroke="#8b0000" stroke-width="2"/>
<text transform="translate(261.8,184.4)" x="0" font-size="19.08" textLength="89.68" lengthAdjust="spacingAndGlyphs">Persistent</text>
<text transform="translate(261.8,204.2)" x="0" font-size="19.08" textLength="39.23" lengthAdjust="spacingAndGlyphs">SGD</text>
<line x1="210.3" y1="225.6" x2="246.9" y2="225.6" stroke="#808080" stroke-width="1.8" stroke-dasharray="6.4,2.8"/>
<text transform="translate(261.8,230.4)" x="0" font-size="19.08" textLength="58.57" lengthAdjust="spacingAndGlyphs">Oracle</text>
<rect x="413.6" y="35.3" width="224.7" height="149.8" fill="#fff"/>
<line x1="423.4" y1="35.3" x2="423.4" y2="185.1" stroke="#b8b8b8" stroke-width="0.9"/>
<line x1="459.22" y1="35.3" x2="459.22" y2="185.1" stroke="#b8b8b8" stroke-width="0.9"/>
<line x1="495.03" y1="35.3" x2="495.03" y2="185.1" stroke="#b8b8b8" stroke-width="0.9"/>
<line x1="530.85" y1="35.3" x2="530.85" y2="185.1" stroke="#b8b8b8" stroke-width="0.9"/>
<line x1="566.66" y1="35.3" x2="566.66" y2="185.1" stroke="#b8b8b8" stroke-width="0.9"/>
<line x1="602.48" y1="35.3" x2="602.48" y2="185.1" stroke="#b8b8b8" stroke-width="0.9"/>
<line x1="638.3" y1="35.3" x2="638.3" y2="185.1" stroke="#b8b8b8" stroke-width="0.9"/>
<line x1="413.6" y1="178.2" x2="638.3" y2="178.2" stroke="#b8b8b8" stroke-width="0.9"/>
<line x1="413.6" y1="143.97" x2="638.3" y2="143.97" stroke="#b8b8b8" stroke-width="0.9"/>
<line x1="413.6" y1="109.75" x2="638.3" y2="109.75" stroke="#b8b8b8" stroke-width="0.9"/>
<line x1="413.6" y1="75.52" x2="638.3" y2="75.52" stroke="#b8b8b8" stroke-width="0.9"/>
<line x1="413.6" y1="41.3" x2="638.3" y2="41.3" stroke="#b8b8b8" stroke-width="0.9"/>
<g clip-path="url(#cLI)">
<path d="M423.4,178.2L427,177.8L427.5,173.7L428.2,160.7L430,88.7L430.5,77.5L431.4,67L432.2,61L433.5,56.4L435,53.7L437.2,51.7L442.1,49.7L449.8,48.3L469.6,46L493,44.1L522.1,43.2L589.2,42.1L638.3,41.8" fill="none" stroke="#1e90ff" stroke-width="1.0" stroke-dasharray="3.5,1.7" stroke-linejoin="round"/>
<path d="M423.4,178.2L430.8,177.7L431.7,176.2L432.9,172.7L434.8,163.2L440.1,112.7L442.5,94.8L444.4,82.6L446.6,73L448.4,67.5L451.1,62.8L454.5,60L461.5,56.8L467.8,54.6L474.5,53.5L484.3,52.5L558.9,47.4L595,46.1L638.3,45.1" fill="none" stroke="#1e90ff" stroke-width="1.0" stroke-dasharray="3.5,1.7" stroke-linejoin="round"/>
<path d="M420.6,178.2a2.8,2.8 0 1,0 5.5,0a2.8,2.8 0 1,0 -5.5,0ZM427.8,76.5a2.8,2.8 0 1,0 5.5,0a2.8,2.8 0 1,0 -5.5,0ZM435,51.4a2.8,2.8 0 1,0 5.5,0a2.8,2.8 0 1,0 -5.5,0ZM442.1,49.1a2.8,2.8 0 1,0 5.5,0a2.8,2.8 0 1,0 -5.5,0ZM449.3,48a2.8,2.8 0 1,0 5.5,0a2.8,2.8 0 1,0 -5.5,0ZM456.5,47.2a2.8,2.8 0 1,0 5.5,0a2.8,2.8 0 1,0 -5.5,0ZM463.6,46.3a2.8,2.8 0 1,0 5.5,0a2.8,2.8 0 1,0 -5.5,0ZM470.8,45.6a2.8,2.8 0 1,0 5.5,0a2.8,2.8 0 1,0 -5.5,0ZM478,45a2.8,2.8 0 1,0 5.5,0a2.8,2.8 0 1,0 -5.5,0ZM485.1,44.4a2.8,2.8 0 1,0 5.5,0a2.8,2.8 0 1,0 -5.5,0ZM492.3,44a2.8,2.8 0 1,0 5.5,0a2.8,2.8 0 1,0 -5.5,0ZM499.4,43.8a2.8,2.8 0 1,0 5.5,0a2.8,2.8 0 1,0 -5.5,0ZM506.6,43.6a2.8,2.8 0 1,0 5.5,0a2.8,2.8 0 1,0 -5.5,0ZM513.8,43.4a2.8,2.8 0 1,0 5.5,0a2.8,2.8 0 1,0 -5.5,0ZM520.9,43.2a2.8,2.8 0 1,0 5.5,0a2.8,2.8 0 1,0 -5.5,0ZM528.1,43.1a2.8,2.8 0 1,0 5.5,0a2.8,2.8 0 1,0 -5.5,0ZM535.3,43a2.8,2.8 0 1,0 5.5,0a2.8,2.8 0 1,0 -5.5,0ZM542.4,42.9a2.8,2.8 0 1,0 5.5,0a2.8,2.8 0 1,0 -5.5,0ZM549.6,42.8a2.8,2.8 0 1,0 5.5,0a2.8,2.8 0 1,0 -5.5,0ZM556.8,42.7a2.8,2.8 0 1,0 5.5,0a2.8,2.8 0 1,0 -5.5,0ZM563.9,42.5a2.8,2.8 0 1,0 5.5,0a2.8,2.8 0 1,0 -5.5,0ZM571.1,42.4a2.8,2.8 0 1,0 5.5,0a2.8,2.8 0 1,0 -5.5,0ZM578.2,42.3a2.8,2.8 0 1,0 5.5,0a2.8,2.8 0 1,0 -5.5,0ZM585.4,42.2a2.8,2.8 0 1,0 5.5,0a2.8,2.8 0 1,0 -5.5,0ZM592.6,42.1a2.8,2.8 0 1,0 5.5,0a2.8,2.8 0 1,0 -5.5,0ZM599.7,42a2.8,2.8 0 1,0 5.5,0a2.8,2.8 0 1,0 -5.5,0ZM606.9,41.9a2.8,2.8 0 1,0 5.5,0a2.8,2.8 0 1,0 -5.5,0ZM614.1,41.9a2.8,2.8 0 1,0 5.5,0a2.8,2.8 0 1,0 -5.5,0ZM621.2,41.9a2.8,2.8 0 1,0 5.5,0a2.8,2.8 0 1,0 -5.5,0ZM628.4,41.9a2.8,2.8 0 1,0 5.5,0a2.8,2.8 0 1,0 -5.5,0ZM420.6,178.2a2.8,2.8 0 1,0 5.5,0a2.8,2.8 0 1,0 -5.5,0ZM427.8,177.8a2.8,2.8 0 1,0 5.5,0a2.8,2.8 0 1,0 -5.5,0ZM435,133.3a2.8,2.8 0 1,0 5.5,0a2.8,2.8 0 1,0 -5.5,0ZM442.1,80.3a2.8,2.8 0 1,0 5.5,0a2.8,2.8 0 1,0 -5.5,0ZM449.3,61.8a2.8,2.8 0 1,0 5.5,0a2.8,2.8 0 1,0 -5.5,0ZM456.5,57.7a2.8,2.8 0 1,0 5.5,0a2.8,2.8 0 1,0 -5.5,0ZM463.6,55a2.8,2.8 0 1,0 5.5,0a2.8,2.8 0 1,0 -5.5,0ZM470.8,53.6a2.8,2.8 0 1,0 5.5,0a2.8,2.8 0 1,0 -5.5,0ZM478,52.8a2.8,2.8 0 1,0 5.5,0a2.8,2.8 0 1,0 -5.5,0ZM485.1,52.3a2.8,2.8 0 1,0 5.5,0a2.8,2.8 0 1,0 -5.5,0ZM492.3,51.7a2.8,2.8 0 1,0 5.5,0a2.8,2.8 0 1,0 -5.5,0ZM499.4,51.2a2.8,2.8 0 1,0 5.5,0a2.8,2.8 0 1,0 -5.5,0ZM506.6,50.6a2.8,2.8 0 1,0 5.5,0a2.8,2.8 0 1,0 -5.5,0ZM513.8,50.2a2.8,2.8 0 1,0 5.5,0a2.8,2.8 0 1,0 -5.5,0ZM520.9,49.7a2.8,2.8 0 1,0 5.5,0a2.8,2.8 0 1,0 -5.5,0ZM528.1,49.2a2.8,2.8 0 1,0 5.5,0a2.8,2.8 0 1,0 -5.5,0ZM535.3,48.7a2.8,2.8 0 1,0 5.5,0a2.8,2.8 0 1,0 -5.5,0ZM542.4,48.2a2.8,2.8 0 1,0 5.5,0a2.8,2.8 0 1,0 -5.5,0ZM549.6,47.7a2.8,2.8 0 1,0 5.5,0a2.8,2.8 0 1,0 -5.5,0ZM556.8,47.3a2.8,2.8 0 1,0 5.5,0a2.8,2.8 0 1,0 -5.5,0ZM563.9,47a2.8,2.8 0 1,0 5.5,0a2.8,2.8 0 1,0 -5.5,0ZM571.1,46.8a2.8,2.8 0 1,0 5.5,0a2.8,2.8 0 1,0 -5.5,0ZM578.2,46.5a2.8,2.8 0 1,0 5.5,0a2.8,2.8 0 1,0 -5.5,0ZM585.4,46.3a2.8,2.8 0 1,0 5.5,0a2.8,2.8 0 1,0 -5.5,0ZM592.6,46.1a2.8,2.8 0 1,0 5.5,0a2.8,2.8 0 1,0 -5.5,0ZM599.7,45.9a2.8,2.8 0 1,0 5.5,0a2.8,2.8 0 1,0 -5.5,0ZM606.9,45.7a2.8,2.8 0 1,0 5.5,0a2.8,2.8 0 1,0 -5.5,0ZM614.1,45.6a2.8,2.8 0 1,0 5.5,0a2.8,2.8 0 1,0 -5.5,0ZM621.2,45.4a2.8,2.8 0 1,0 5.5,0a2.8,2.8 0 1,0 -5.5,0ZM628.4,45.3a2.8,2.8 0 1,0 5.5,0a2.8,2.8 0 1,0 -5.5,0Z" fill="#1e90ff" stroke="#1e90ff" stroke-width="0.6"/>
<path d="M423.4,178.2L427,177.8L427.6,174.5L428.6,161.5L430.3,92.7L431.3,73.6L432.2,64.2L433.6,56.6L434.8,54.1L436.9,52.1L441.7,49.9L447.9,48.6L469.8,45.6L491.3,43.8L535.1,42.6L596.4,41.6L638.3,41.4" fill="none" stroke="#008000" stroke-width="1.0" stroke-dasharray="3.5,1.7" stroke-linejoin="round"/>
<path d="M423.4,178.2L428.3,178L431,177.6L432.5,175.4L434.3,170.8L435.7,162.3L443.9,95.5L446.1,81.8L448.1,72.7L450.8,64.1L452.2,61.6L455.6,58.8L462.2,55.9L469.3,54L480.3,52.6L499.5,50.9L561,46.8L597.9,45.6L638.3,44.7" fill="none" stroke="#008000" stroke-width="1.0" stroke-dasharray="3.5,1.7" stroke-linejoin="round"/>
<path d="M423.4,174.7L422.6,177.1L420.1,177.1L422.1,178.6L421.3,181L423.4,179.5L425.5,181L424.7,178.6L426.7,177.1L424.2,177.1ZM430.6,81.6L429.8,84L427.2,84L429.3,85.5L428.5,87.9L430.6,86.4L432.6,87.9L431.8,85.5L433.9,84L431.3,84ZM437.7,48.1L436.9,50.5L434.4,50.5L436.5,52L435.7,54.4L437.7,52.9L439.8,54.4L439,52L441.1,50.5L438.5,50.5ZM444.9,45.6L444.1,48L441.6,48L443.6,49.5L442.8,51.9L444.9,50.4L446.9,51.9L446.2,49.5L448.2,48L445.7,48ZM452.1,44.5L451.3,47L448.7,47L450.8,48.5L450,50.9L452.1,49.4L454.1,50.9L453.3,48.5L455.4,47L452.8,47ZM459.2,43.7L458.4,46.1L455.9,46.1L457.9,47.6L457.2,50L459.2,48.5L461.3,50L460.5,47.6L462.5,46.1L460,46.1ZM466.4,42.5L465.6,44.9L463.1,44.9L465.1,46.4L464.3,48.9L466.4,47.4L468.4,48.9L467.7,46.4L469.7,44.9L467.2,44.9ZM473.5,41.7L472.8,44.1L470.2,44.1L472.3,45.6L471.5,48L473.5,46.5L475.6,48L474.8,45.6L476.9,44.1L474.3,44.1ZM480.7,41L479.9,43.4L477.4,43.4L479.4,44.9L478.6,47.4L480.7,45.9L482.8,47.4L482,44.9L484,43.4L481.5,43.4ZM487.9,40.5L487.1,42.9L484.5,42.9L486.6,44.4L485.8,46.8L487.9,45.3L489.9,46.8L489.1,44.4L491.2,42.9L488.7,42.9ZM495,40.1L494.2,42.5L491.7,42.5L493.8,44L493,46.5L495,45L497.1,46.5L496.3,44L498.4,42.5L495.8,42.5ZM502.2,39.9L501.4,42.3L498.9,42.3L500.9,43.8L500.1,46.2L502.2,44.7L504.3,46.2L503.5,43.8L505.5,42.3L503,42.3ZM509.4,39.6L508.6,42.1L506,42.1L508.1,43.6L507.3,46L509.4,44.5L511.4,46L510.6,43.6L512.7,42.1L510.1,42.1ZM516.5,39.5L515.7,41.9L513.2,41.9L515.3,43.4L514.5,45.8L516.5,44.3L518.6,45.8L517.8,43.4L519.9,41.9L517.3,41.9ZM523.7,39.3L522.9,41.7L520.4,41.7L522.4,43.2L521.6,45.6L523.7,44.1L525.7,45.6L525,43.2L527,41.7L524.5,41.7ZM530.8,39.2L530.1,41.6L527.5,41.6L529.6,43.1L528.8,45.5L530.8,44L532.9,45.5L532.1,43.1L534.2,41.6L531.6,41.6ZM538,39.1L537.2,41.5L534.7,41.5L536.7,43L536,45.4L538,43.9L540.1,45.4L539.3,43L541.3,41.5L538.8,41.5ZM545.2,39L544.4,41.4L541.8,41.4L543.9,42.9L543.1,45.3L545.2,43.8L547.2,45.3L546.4,42.9L548.5,41.4L546,41.4ZM552.3,38.9L551.6,41.3L549,41.3L551.1,42.8L550.3,45.2L552.3,43.7L554.4,45.2L553.6,42.8L555.7,41.3L553.1,41.3ZM559.5,38.8L558.7,41.2L556.2,41.2L558.2,42.7L557.4,45.1L559.5,43.6L561.6,45.1L560.8,42.7L562.8,41.2L560.3,41.2ZM566.7,38.6L565.9,41.1L563.3,41.1L565.4,42.6L564.6,45L566.7,43.5L568.7,45L567.9,42.6L570,41.1L567.4,41.1ZM573.8,38.5L573,40.9L570.5,40.9L572.6,42.4L571.8,44.8L573.8,43.3L575.9,44.8L575.1,42.4L577.2,40.9L574.6,40.9ZM581,38.4L580.2,40.8L577.7,40.8L579.7,42.3L578.9,44.7L581,43.2L583,44.7L582.3,42.3L584.3,40.8L581.8,40.8ZM588.2,38.2L587.4,40.7L584.8,40.7L586.9,42.2L586.1,44.6L588.2,43.1L590.2,44.6L589.4,42.2L591.5,40.7L588.9,40.7ZM595.3,38.1L594.5,40.6L592,40.6L594,42.1L593.3,44.5L595.3,43L597.4,44.5L596.6,42.1L598.6,40.6L596.1,40.6ZM602.5,38.1L601.7,40.5L599.2,40.5L601.2,42L600.4,44.4L602.5,42.9L604.5,44.4L603.8,42L605.8,40.5L603.3,40.5ZM609.6,38L608.9,40.5L606.3,40.5L608.4,41.9L607.6,44.4L609.6,42.9L611.7,44.4L610.9,41.9L613,40.5L610.4,40.5ZM616.8,38L616,40.4L613.5,40.4L615.5,41.9L614.7,44.3L616.8,42.8L618.9,44.3L618.1,41.9L620.1,40.4L617.6,40.4ZM624,38L623.2,40.4L620.6,40.4L622.7,41.9L621.9,44.3L624,42.8L626,44.3L625.2,41.9L627.3,40.4L624.8,40.4ZM631.1,37.9L630.3,40.4L627.8,40.4L629.9,41.9L629.1,44.3L631.1,42.8L633.2,44.3L632.4,41.9L634.5,40.4L631.9,40.4ZM423.4,174.7L422.6,177.1L420.1,177.1L422.1,178.6L421.3,181L423.4,179.5L425.5,181L424.7,178.6L426.7,177.1L424.2,177.1ZM430.6,174.3L429.8,176.7L427.2,176.7L429.3,178.2L428.5,180.6L430.6,179.1L432.6,180.6L431.8,178.2L433.9,176.7L431.3,176.7ZM437.7,142L436.9,144.4L434.4,144.4L436.5,145.9L435.7,148.3L437.7,146.8L439.8,148.3L439,145.9L441.1,144.4L438.5,144.4ZM444.9,85.2L444.1,87.6L441.6,87.6L443.6,89.1L442.8,91.5L444.9,90L446.9,91.5L446.2,89.1L448.2,87.6L445.7,87.6ZM452.1,58.3L451.3,60.8L448.7,60.8L450.8,62.2L450,64.7L452.1,63.2L454.1,64.7L453.3,62.2L455.4,60.8L452.8,60.8ZM459.2,53.5L458.4,56L455.9,56L457.9,57.5L457.2,59.9L459.2,58.4L461.3,59.9L460.5,57.5L462.5,56L460,56ZM466.4,51.1L465.6,53.6L463.1,53.6L465.1,55.1L464.3,57.5L466.4,56L468.4,57.5L467.7,55.1L469.7,53.6L467.2,53.6ZM473.5,49.9L472.8,52.3L470.2,52.3L472.3,53.8L471.5,56.2L473.5,54.7L475.6,56.2L474.8,53.8L476.9,52.3L474.3,52.3ZM480.7,49L479.9,51.4L477.4,51.4L479.4,52.9L478.6,55.3L480.7,53.9L482.8,55.3L482,52.9L484,51.4L481.5,51.4ZM487.9,48.4L487.1,50.8L484.5,50.8L486.6,52.3L485.8,54.7L487.9,53.2L489.9,54.7L489.1,52.3L491.2,50.8L488.7,50.8ZM495,47.8L494.2,50.2L491.7,50.2L493.8,51.7L493,54.1L495,52.6L497.1,54.1L496.3,51.7L498.4,50.2L495.8,50.2ZM502.2,47.2L501.4,49.6L498.9,49.6L500.9,51.1L500.1,53.6L502.2,52.1L504.3,53.6L503.5,51.1L505.5,49.6L503,49.6ZM509.4,46.7L508.6,49.1L506,49.1L508.1,50.6L507.3,53.1L509.4,51.6L511.4,53.1L510.6,50.6L512.7,49.1L510.1,49.1ZM516.5,46.3L515.7,48.7L513.2,48.7L515.3,50.2L514.5,52.6L516.5,51.1L518.6,52.6L517.8,50.2L519.9,48.7L517.3,48.7ZM523.7,45.8L522.9,48.2L520.4,48.2L522.4,49.7L521.6,52.1L523.7,50.6L525.7,52.1L525,49.7L527,48.2L524.5,48.2ZM530.8,45.3L530.1,47.7L527.5,47.7L529.6,49.2L528.8,51.7L530.8,50.2L532.9,51.7L532.1,49.2L534.2,47.7L531.6,47.7ZM538,44.8L537.2,47.2L534.7,47.2L536.7,48.7L536,51.2L538,49.7L540.1,51.2L539.3,48.7L541.3,47.2L538.8,47.2ZM545.2,44.3L544.4,46.7L541.8,46.7L543.9,48.2L543.1,50.6L545.2,49.1L547.2,50.6L546.4,48.2L548.5,46.7L546,46.7ZM552.3,43.8L551.6,46.2L549,46.2L551.1,47.7L550.3,50.1L552.3,48.6L554.4,50.1L553.6,47.7L555.7,46.2L553.1,46.2ZM559.5,43.4L558.7,45.8L556.2,45.8L558.2,47.3L557.4,49.7L559.5,48.2L561.6,49.7L560.8,47.3L562.8,45.8L560.3,45.8ZM566.7,43.1L565.9,45.5L563.3,45.5L565.4,47L564.6,49.4L566.7,47.9L568.7,49.4L567.9,47L570,45.5L567.4,45.5ZM573.8,42.8L573,45.3L570.5,45.3L572.6,46.8L571.8,49.2L573.8,47.7L575.9,49.2L575.1,46.8L577.2,45.3L574.6,45.3ZM581,42.6L580.2,45L577.7,45L579.7,46.5L578.9,48.9L581,47.5L583,48.9L582.3,46.5L584.3,45L581.8,45ZM588.2,42.4L587.4,44.8L584.8,44.8L586.9,46.3L586.1,48.7L588.2,47.2L590.2,48.7L589.4,46.3L591.5,44.8L588.9,44.8ZM595.3,42.2L594.5,44.6L592,44.6L594,46.1L593.3,48.5L595.3,47L597.4,48.5L596.6,46.1L598.6,44.6L596.1,44.6ZM602.5,42L601.7,44.4L599.2,44.4L601.2,45.9L600.4,48.3L602.5,46.8L604.5,48.3L603.8,45.9L605.8,44.4L603.3,44.4ZM609.6,41.8L608.9,44.2L606.3,44.2L608.4,45.7L607.6,48.2L609.6,46.7L611.7,48.2L610.9,45.7L613,44.2L610.4,44.2ZM616.8,41.6L616,44.1L613.5,44.1L615.5,45.6L614.7,48L616.8,46.5L618.9,48L618.1,45.6L620.1,44.1L617.6,44.1ZM624,41.5L623.2,43.9L620.6,43.9L622.7,45.4L621.9,47.8L624,46.3L626,47.8L625.2,45.4L627.3,43.9L624.8,43.9ZM631.1,41.3L630.3,43.8L627.8,43.8L629.9,45.3L629.1,47.7L631.1,46.2L633.2,47.7L632.4,45.3L634.5,43.8L631.9,43.8Z" fill="#008000" stroke="#008000" stroke-width="0.6"/>
<path d="M423.4,178.2L427.9,177.8L428.2,175.4L429.2,154.8L431.1,89L432.9,64.3L433.6,60.3L435,56.7L436.9,53.7L439,52.1L443.4,49.9L449.1,48.7L469.7,45.6L490.8,43.8L535,42.6L596.4,41.6L638.3,41.4" fill="none" stroke="#800080" stroke-width="1.0" stroke-dasharray="3.5,1.7" stroke-linejoin="round"/>
<path d="M423.4,178.2L434.5,177.7L436,175.6L438,170.5L439.5,163.4L441.4,150.3L444.4,118.6L446.5,101.6L448.4,89.4L450.5,79.7L454.7,64.1L456.7,60.1L459.1,57.5L464.7,55.1L471.9,53.6L482.4,52.3L504.5,50.6L562,46.8L638.3,44.7" fill="none" stroke="#800080" stroke-width="1.0" stroke-dasharray="3.5,1.7" stroke-linejoin="round"/>
<path d="M423.4,175.4L426.1,180.9L420.6,180.9ZM430.6,102.4L433.3,107.9L427.8,107.9ZM437.7,50.2L440.5,55.7L435,55.7ZM444.9,46.8L447.6,52.3L442.1,52.3ZM452.1,45.5L454.8,51L449.3,51ZM459.2,44.6L462,50.1L456.5,50.1ZM466.4,43.3L469.1,48.8L463.6,48.8ZM473.5,42.4L476.3,47.9L470.8,47.9ZM480.7,41.8L483.5,47.3L478,47.3ZM487.9,41.2L490.6,46.7L485.1,46.7ZM495,40.9L497.8,46.4L492.3,46.4ZM502.2,40.6L504.9,46.1L499.4,46.1ZM509.4,40.4L512.1,45.9L506.6,45.9ZM516.5,40.2L519.3,45.7L513.8,45.7ZM523.7,40.1L526.4,45.6L520.9,45.6ZM530.8,39.9L533.6,45.4L528.1,45.4ZM538,39.8L540.8,45.3L535.3,45.3ZM545.2,39.7L547.9,45.2L542.4,45.2ZM552.3,39.6L555.1,45.1L549.6,45.1ZM559.5,39.5L562.3,45L556.8,45ZM566.7,39.4L569.4,44.9L563.9,44.9ZM573.8,39.3L576.6,44.8L571.1,44.8ZM581,39.1L583.7,44.6L578.2,44.6ZM588.2,39L590.9,44.5L585.4,44.5ZM595.3,38.9L598.1,44.4L592.6,44.4ZM602.5,38.8L605.2,44.3L599.7,44.3ZM609.6,38.8L612.4,44.3L606.9,44.3ZM616.8,38.7L619.6,44.2L614.1,44.2ZM624,38.7L626.7,44.2L621.2,44.2ZM631.1,38.7L633.9,44.2L628.4,44.2ZM423.4,175.4L426.1,180.9L420.6,180.9ZM430.6,175.3L433.3,180.8L427.8,180.8ZM437.7,168.6L440.5,174.1L435,174.1ZM444.9,111.4L447.6,116.9L442.1,116.9ZM452.1,71.1L454.8,76.6L449.3,76.6ZM459.2,54.7L462,60.2L456.5,60.2ZM466.4,51.9L469.1,57.4L463.6,57.4ZM473.5,50.6L476.3,56.1L470.8,56.1ZM480.7,49.7L483.5,55.2L478,55.2ZM487.9,49.1L490.6,54.6L485.1,54.6ZM495,48.5L497.8,54L492.3,54ZM502.2,48L504.9,53.5L499.4,53.5ZM509.4,47.5L512.1,53L506.6,53ZM516.5,47L519.3,52.5L513.8,52.5ZM523.7,46.6L526.4,52.1L520.9,52.1ZM530.8,46.1L533.6,51.6L528.1,51.6ZM538,45.6L540.8,51.1L535.3,51.1ZM545.2,45L547.9,50.5L542.4,50.5ZM552.3,44.6L555.1,50.1L549.6,50.1ZM559.5,44.2L562.3,49.7L556.8,49.7ZM566.7,43.9L569.4,49.4L563.9,49.4ZM573.8,43.6L576.6,49.1L571.1,49.1ZM581,43.4L583.7,48.9L578.2,48.9ZM588.2,43.2L590.9,48.7L585.4,48.7ZM595.3,42.9L598.1,48.4L592.6,48.4ZM602.5,42.8L605.2,48.3L599.7,48.3ZM609.6,42.6L612.4,48.1L606.9,48.1ZM616.8,42.4L619.6,47.9L614.1,47.9ZM624,42.2L626.7,47.7L621.2,47.7ZM631.1,42.1L633.9,47.6L628.4,47.6Z" fill="#800080" stroke="#800080" stroke-width="0.6"/>
<path d="M423.4,178.2L427.9,177.8L428.3,175.2L429.6,156.4L433.2,82.3L434.1,68.9L435.5,62.2L437,57.9L439.8,53.9L442.9,51.2L444.7,50.3L448,49.3L456.2,47.8L477.9,45.7L494,44.5L522.9,43.6L589.7,42.5L638.3,42.3" fill="none" stroke="#ffa500" stroke-width="1.4" stroke-dasharray="5,2.3" stroke-linejoin="round"/>
<path d="M423.4,178.2L434.6,177.7L435.6,176.9L436.8,175.5L438.8,171.7L440.5,165.4L442,157.9L450.2,94.4L452.4,80.7L454.8,72.2L457.6,65.8L460.6,62L464.8,58.6L470.5,55.9L476.2,54.5L486.5,53L503.1,51.4L562.1,47.6L638.3,45.5" fill="none" stroke="#ffa500" stroke-width="1.4" stroke-dasharray="5,2.3" stroke-linejoin="round"/>
<path d="M420.6,175.4L426.1,175.4L426.1,180.9L420.6,180.9ZM427.8,134.4L433.3,134.4L433.3,139.9L427.8,139.9ZM435,53.9L440.5,53.9L440.5,59.4L435,59.4ZM442.1,47.4L447.6,47.4L447.6,52.9L442.1,52.9ZM449.3,45.7L454.8,45.7L454.8,51.2L449.3,51.2ZM456.5,44.7L462,44.7L462,50.2L456.5,50.2ZM463.6,43.9L469.1,43.9L469.1,49.4L463.6,49.4ZM470.8,43.3L476.3,43.3L476.3,48.8L470.8,48.8ZM478,42.7L483.5,42.7L483.5,48.2L478,48.2ZM485.1,42.1L490.6,42.1L490.6,47.6L485.1,47.6ZM492.3,41.7L497.8,41.7L497.8,47.2L492.3,47.2ZM499.4,41.4L504.9,41.4L504.9,46.9L499.4,46.9ZM506.6,41.2L512.1,41.2L512.1,46.7L506.6,46.7ZM513.8,41L519.3,41L519.3,46.5L513.8,46.5ZM520.9,40.9L526.4,40.9L526.4,46.4L520.9,46.4ZM528.1,40.7L533.6,40.7L533.6,46.2L528.1,46.2ZM535.3,40.6L540.8,40.6L540.8,46.1L535.3,46.1ZM542.4,40.5L547.9,40.5L547.9,46L542.4,46ZM549.6,40.4L555.1,40.4L555.1,45.9L549.6,45.9ZM556.8,40.3L562.3,40.3L562.3,45.8L556.8,45.8ZM563.9,40.2L569.4,40.2L569.4,45.7L563.9,45.7ZM571.1,40.1L576.6,40.1L576.6,45.6L571.1,45.6ZM578.2,39.9L583.7,39.9L583.7,45.4L578.2,45.4ZM585.4,39.8L590.9,39.8L590.9,45.3L585.4,45.3ZM592.6,39.7L598.1,39.7L598.1,45.2L592.6,45.2ZM599.7,39.6L605.2,39.6L605.2,45.1L599.7,45.1ZM606.9,39.6L612.4,39.6L612.4,45.1L606.9,45.1ZM614.1,39.6L619.6,39.6L619.6,45.1L614.1,45.1ZM621.2,39.5L626.7,39.5L626.7,45L621.2,45ZM628.4,39.5L633.9,39.5L633.9,45L628.4,45ZM420.6,175.4L426.1,175.4L426.1,180.9L420.6,180.9ZM427.8,175.3L433.3,175.3L433.3,180.8L427.8,180.8ZM435,171.3L440.5,171.3L440.5,176.8L435,176.8ZM442.1,131.6L447.6,131.6L447.6,137.1L442.1,137.1ZM449.3,79.8L454.8,79.8L454.8,85.3L449.3,85.3ZM456.5,60.7L462,60.7L462,66.2L456.5,66.2ZM463.6,55L469.1,55L469.1,60.5L463.6,60.5ZM470.8,52.2L476.3,52.2L476.3,57.7L470.8,57.7ZM478,51L483.5,51L483.5,56.5L478,56.5ZM485.1,50.1L490.6,50.1L490.6,55.6L485.1,55.6ZM492.3,49.4L497.8,49.4L497.8,54.9L492.3,54.9ZM499.4,48.8L504.9,48.8L504.9,54.3L499.4,54.3ZM506.6,48.2L512.1,48.2L512.1,53.7L506.6,53.7ZM513.8,47.8L519.3,47.8L519.3,53.3L513.8,53.3ZM520.9,47.4L526.4,47.4L526.4,52.9L520.9,52.9ZM528.1,46.9L533.6,46.9L533.6,52.4L528.1,52.4ZM535.3,46.4L540.8,46.4L540.8,51.9L535.3,51.9ZM542.4,45.9L547.9,45.9L547.9,51.4L542.4,51.4ZM549.6,45.4L555.1,45.4L555.1,50.9L549.6,50.9ZM556.8,45L562.3,45L562.3,50.5L556.8,50.5ZM563.9,44.7L569.4,44.7L569.4,50.2L563.9,50.2ZM571.1,44.4L576.6,44.4L576.6,49.9L571.1,49.9ZM578.2,44.2L583.7,44.2L583.7,49.7L578.2,49.7ZM585.4,44L590.9,44L590.9,49.5L585.4,49.5ZM592.6,43.8L598.1,43.8L598.1,49.3L592.6,49.3ZM599.7,43.6L605.2,43.6L605.2,49.1L599.7,49.1ZM606.9,43.4L612.4,43.4L612.4,48.9L606.9,48.9ZM614.1,43.2L619.6,43.2L619.6,48.7L614.1,48.7ZM621.2,43.1L626.7,43.1L626.7,48.6L621.2,48.6ZM628.4,42.9L633.9,42.9L633.9,48.4L628.4,48.4Z" fill="#ffa500" stroke="#ffa500" stroke-width="0.6"/>
<path d="M423.4,178.2L428.5,177.8L429.3,172.4L433.2,62.6L434,53.7L434.5,52.3L435.5,51.3L441.3,49.5L450.7,48L494.3,44.5L523.2,43.6L589.8,42.5L638.3,42.3" fill="none" stroke="#000080" stroke-width="1.15" stroke-linejoin="round"/>
<path d="M423.4,178.2L433.9,177.8L435.7,177.2L437.8,175.4L438.8,174L441.5,166.5L443.1,158.5L444.6,146.8L447.5,106.9L450.3,76.8L452.7,64.1L454.7,58.5L456.3,56.2L460.2,55.3L478.9,53.4L554.6,48L585.6,46.8L638.3,45.5" fill="none" stroke="#8b0000" stroke-width="1.15" stroke-linejoin="round"/>
</g>
<rect x="413.6" y="35.3" width="224.7" height="149.8" fill="none" stroke="#000" stroke-width="1.2"/>
<line x1="423.4" y1="185.1" x2="423.4" y2="188.3" stroke="#000" stroke-width="1"/>
<line x1="459.22" y1="185.1" x2="459.22" y2="188.3" stroke="#000" stroke-width="1"/>
<line x1="495.03" y1="185.1" x2="495.03" y2="188.3" stroke="#000" stroke-width="1"/>
<line x1="530.85" y1="185.1" x2="530.85" y2="188.3" stroke="#000" stroke-width="1"/>
<line x1="566.66" y1="185.1" x2="566.66" y2="188.3" stroke="#000" stroke-width="1"/>
<line x1="602.48" y1="185.1" x2="602.48" y2="188.3" stroke="#000" stroke-width="1"/>
<line x1="638.3" y1="185.1" x2="638.3" y2="188.3" stroke="#000" stroke-width="1"/>
<line x1="410.4" y1="178.2" x2="413.6" y2="178.2" stroke="#000" stroke-width="1"/>
<line x1="410.4" y1="143.97" x2="413.6" y2="143.97" stroke="#000" stroke-width="1"/>
<line x1="410.4" y1="109.75" x2="413.6" y2="109.75" stroke="#000" stroke-width="1"/>
<line x1="410.4" y1="75.52" x2="413.6" y2="75.52" stroke="#000" stroke-width="1"/>
<line x1="410.4" y1="41.3" x2="413.6" y2="41.3" stroke="#000" stroke-width="1"/>
<text transform="translate(408.8,183.8)" x="-8.53" font-size="14.2" textLength="8.53" lengthAdjust="spacingAndGlyphs">0</text>
<text transform="translate(408.8,149.57)" x="-17.05" font-size="14.2" textLength="17.05" lengthAdjust="spacingAndGlyphs">25</text>
<text transform="translate(408.8,115.35)" x="-17.05" font-size="14.2" textLength="17.05" lengthAdjust="spacingAndGlyphs">50</text>
<text transform="translate(408.8,81.12)" x="-17.05" font-size="14.2" textLength="17.05" lengthAdjust="spacingAndGlyphs">75</text>
<text transform="translate(408.8,46.9)" x="-25.58" font-size="14.2" textLength="25.58" lengthAdjust="spacingAndGlyphs">100</text>
<text transform="translate(423.4,200.4)" x="-4.26" font-size="14.2" textLength="8.53" lengthAdjust="spacingAndGlyphs">0</text>
<text transform="translate(459.22,200.4)" x="-8.53" font-size="14.2" textLength="17.05" lengthAdjust="spacingAndGlyphs">20</text>
<text transform="translate(495.03,200.4)" x="-8.53" font-size="14.2" textLength="17.05" lengthAdjust="spacingAndGlyphs">40</text>
<text transform="translate(530.85,200.4)" x="-8.53" font-size="14.2" textLength="17.05" lengthAdjust="spacingAndGlyphs">60</text>
<text transform="translate(566.66,200.4)" x="-8.53" font-size="14.2" textLength="17.05" lengthAdjust="spacingAndGlyphs">80</text>
<text transform="translate(602.48,200.4)" x="-12.79" font-size="14.2" textLength="25.58" lengthAdjust="spacingAndGlyphs">100</text>
<text transform="translate(638.3,200.4)" x="-12.79" font-size="14.2" textLength="25.58" lengthAdjust="spacingAndGlyphs">120</text>
<text transform="translate(526,221)" x="-3.69" font-size="19.93" textLength="7.37" lengthAdjust="spacingAndGlyphs">t</text>
<text transform="translate(376,110.2) rotate(-90)" x="-103.12" font-size="19.93" textLength="206.25" lengthAdjust="spacingAndGlyphs">Training accuracy (%)</text>
<g transform="translate(19.9,223.2) rotate(-90)">
<text transform="translate(0.3,0)" x="0" font-size="36.04" textLength="16.8" lengthAdjust="spacingAndGlyphs" font-style="italic" stroke="#fff" stroke-width="0.9">ε</text>
<text transform="translate(18.8,4.8)" x="0" font-size="24.8" textLength="44.08" lengthAdjust="spacingAndGlyphs">gen</text>
</g>
<line x1="784.9" y1="1.4" x2="784.9" y2="379.4" stroke="#b8b8b8" stroke-width="0.85"/>
<line x1="894.68" y1="1.4" x2="894.68" y2="379.4" stroke="#b8b8b8" stroke-width="0.85"/>
<line x1="1004.46" y1="1.4" x2="1004.46" y2="379.4" stroke="#b8b8b8" stroke-width="0.85"/>
<line x1="1114.24" y1="1.4" x2="1114.24" y2="379.4" stroke="#b8b8b8" stroke-width="0.85"/>
<line x1="1224.02" y1="1.4" x2="1224.02" y2="379.4" stroke="#b8b8b8" stroke-width="0.85"/>
<line x1="1333.8" y1="1.4" x2="1333.8" y2="379.4" stroke="#b8b8b8" stroke-width="0.85"/>
<line x1="752.9" y1="368.4" x2="1333.8" y2="368.4" stroke="#b8b8b8" stroke-width="0.85"/>
<line x1="752.9" y1="218.1" x2="1333.8" y2="218.1" stroke="#b8b8b8" stroke-width="0.85"/>
<line x1="752.9" y1="130.17" x2="1333.8" y2="130.17" stroke="#b8b8b8" stroke-width="0.85"/>
<line x1="752.9" y1="67.79" x2="1333.8" y2="67.79" stroke="#b8b8b8" stroke-width="0.85"/>
<line x1="752.9" y1="19.4" x2="1333.8" y2="19.4" stroke="#b8b8b8" stroke-width="0.85"/>
<g clip-path="url(#cR)">
<line x1="752.9" y1="362.2" x2="1333.8" y2="362.2" stroke="#808080" stroke-width="2" stroke-dasharray="7.4,3.66"/>
<path d="M780.6,19.4a4.2,4.2 0 1,0 8.5,0a4.2,4.2 0 1,0 -8.5,0ZM793.8,314a4.2,4.2 0 1,0 8.5,0a4.2,4.2 0 1,0 -8.5,0ZM807,331a4.2,4.2 0 1,0 8.5,0a4.2,4.2 0 1,0 -8.5,0ZM820.2,335.5a4.2,4.2 0 1,0 8.5,0a4.2,4.2 0 1,0 -8.5,0ZM833.3,338a4.2,4.2 0 1,0 8.5,0a4.2,4.2 0 1,0 -8.5,0ZM846.5,339a4.2,4.2 0 1,0 8.5,0a4.2,4.2 0 1,0 -8.5,0ZM859.7,339.2a4.2,4.2 0 1,0 8.5,0a4.2,4.2 0 1,0 -8.5,0ZM872.9,339.2a4.2,4.2 0 1,0 8.5,0a4.2,4.2 0 1,0 -8.5,0ZM886,339a4.2,4.2 0 1,0 8.5,0a4.2,4.2 0 1,0 -8.5,0ZM899.2,338.9a4.2,4.2 0 1,0 8.5,0a4.2,4.2 0 1,0 -8.5,0ZM912.4,338.4a4.2,4.2 0 1,0 8.5,0a4.2,4.2 0 1,0 -8.5,0ZM925.6,337.8a4.2,4.2 0 1,0 8.5,0a4.2,4.2 0 1,0 -8.5,0ZM938.7,337a4.2,4.2 0 1,0 8.5,0a4.2,4.2 0 1,0 -8.5,0ZM951.9,336.2a4.2,4.2 0 1,0 8.5,0a4.2,4.2 0 1,0 -8.5,0ZM965.1,335.3a4.2,4.2 0 1,0 8.5,0a4.2,4.2 0 1,0 -8.5,0ZM978.3,334.4a4.2,4.2 0 1,0 8.5,0a4.2,4.2 0 1,0 -8.5,0ZM991.4,333.5a4.2,4.2 0 1,0 8.5,0a4.2,4.2 0 1,0 -8.5,0ZM1004.6,332.8a4.2,4.2 0 1,0 8.5,0a4.2,4.2 0 1,0 -8.5,0ZM1017.8,332a4.2,4.2 0 1,0 8.5,0a4.2,4.2 0 1,0 -8.5,0ZM1030.9,331.3a4.2,4.2 0 1,0 8.5,0a4.2,4.2 0 1,0 -8.5,0ZM1044.1,330.5a4.2,4.2 0 1,0 8.5,0a4.2,4.2 0 1,0 -8.5,0ZM1057.3,329.8a4.2,4.2 0 1,0 8.5,0a4.2,4.2 0 1,0 -8.5,0ZM1070.5,329a4.2,4.2 0 1,0 8.5,0a4.2,4.2 0 1,0 -8.5,0ZM1083.6,328.3a4.2,4.2 0 1,0 8.5,0a4.2,4.2 0 1,0 -8.5,0ZM1096.8,327.6a4.2,4.2 0 1,0 8.5,0a4.2,4.2 0 1,0 -8.5,0ZM1110,327a4.2,4.2 0 1,0 8.5,0a4.2,4.2 0 1,0 -8.5,0ZM1123.2,326.4a4.2,4.2 0 1,0 8.5,0a4.2,4.2 0 1,0 -8.5,0ZM1136.3,325.8a4.2,4.2 0 1,0 8.5,0a4.2,4.2 0 1,0 -8.5,0ZM1149.5,325.3a4.2,4.2 0 1,0 8.5,0a4.2,4.2 0 1,0 -8.5,0ZM1162.7,324.7a4.2,4.2 0 1,0 8.5,0a4.2,4.2 0 1,0 -8.5,0ZM1175.9,324.2a4.2,4.2 0 1,0 8.5,0a4.2,4.2 0 1,0 -8.5,0ZM1189,323.7a4.2,4.2 0 1,0 8.5,0a4.2,4.2 0 1,0 -8.5,0ZM1202.2,323.2a4.2,4.2 0 1,0 8.5,0a4.2,4.2 0 1,0 -8.5,0ZM1215.4,322.7a4.2,4.2 0 1,0 8.5,0a4.2,4.2 0 1,0 -8.5,0ZM1228.6,322.2a4.2,4.2 0 1,0 8.5,0a4.2,4.2 0 1,0 -8.5,0ZM1241.7,321.7a4.2,4.2 0 1,0 8.5,0a4.2,4.2 0 1,0 -8.5,0ZM1254.9,321.2a4.2,4.2 0 1,0 8.5,0a4.2,4.2 0 1,0 -8.5,0ZM1268.1,320.7a4.2,4.2 0 1,0 8.5,0a4.2,4.2 0 1,0 -8.5,0ZM1281.2,320.2a4.2,4.2 0 1,0 8.5,0a4.2,4.2 0 1,0 -8.5,0ZM1294.4,319.7a4.2,4.2 0 1,0 8.5,0a4.2,4.2 0 1,0 -8.5,0ZM1307.6,319.3a4.2,4.2 0 1,0 8.5,0a4.2,4.2 0 1,0 -8.5,0ZM1320.8,318.8a4.2,4.2 0 1,0 8.5,0a4.2,4.2 0 1,0 -8.5,0Z" fill="#1e90ff" stroke="#1e90ff" stroke-width="1.0"/>
<path d="M784.9,17.4L788.2,14.1L790.1,16.1L786.9,19.4L790.1,22.7L788.2,24.6L784.9,21.4L781.6,24.6L779.6,22.7L782.9,19.4L779.6,16.1L781.6,14.1ZM798.1,329.5L801.3,326.2L803.3,328.2L800.1,331.5L803.3,334.8L801.3,336.8L798.1,333.5L794.8,336.8L792.8,334.8L796.1,331.5L792.8,328.2L794.8,326.2ZM811.2,340L814.5,336.8L816.5,338.7L813.2,342L816.5,345.3L814.5,347.2L811.2,344L808,347.2L806,345.3L809.3,342L806,338.7L808,336.8ZM824.4,343L827.7,339.8L829.7,341.7L826.4,345L829.7,348.3L827.7,350.2L824.4,347L821.2,350.2L819.2,348.3L822.4,345L819.2,341.7L821.2,339.8ZM837.6,344L840.8,340.8L842.8,342.7L839.6,346L842.8,349.3L840.8,351.2L837.6,348L834.3,351.2L832.3,349.3L835.6,346L832.3,342.7L834.3,340.8ZM850.8,344L854,340.8L856,342.7L852.8,346L856,349.3L854,351.2L850.8,348L847.5,351.2L845.5,349.3L848.8,346L845.5,342.7L847.5,340.8ZM863.9,343.5L867.2,340.2L869.2,342.2L865.9,345.5L869.2,348.8L867.2,350.8L863.9,347.5L860.7,350.8L858.7,348.8L861.9,345.5L858.7,342.2L860.7,340.2ZM877.1,342.6L880.4,339.3L882.4,341.3L879.1,344.6L882.4,347.8L880.4,349.8L877.1,346.6L873.9,349.8L871.9,347.8L875.1,344.6L871.9,341.3L873.9,339.3ZM890.3,341.4L893.5,338.1L895.5,340.1L892.3,343.4L895.5,346.6L893.5,348.6L890.3,345.4L887,348.6L885,346.6L888.3,343.4L885,340.1L887,338.1ZM903.5,340.3L906.7,337L908.7,339L905.5,342.3L908.7,345.5L906.7,347.5L903.5,344.3L900.2,347.5L898.2,345.5L901.5,342.3L898.2,339L900.2,337ZM916.6,339.2L919.9,335.9L921.9,337.9L918.6,341.2L921.9,344.4L919.9,346.4L916.6,343.2L913.4,346.4L911.4,344.4L914.6,341.2L911.4,337.9L913.4,335.9ZM929.8,338L933.1,334.8L935.1,336.8L931.8,340L935.1,343.3L933.1,345.3L929.8,342L926.6,345.3L924.6,343.3L927.8,340L924.6,336.8L926.6,334.8ZM943,336.9L946.2,333.6L948.2,335.6L945,338.9L948.2,342.1L946.2,344.1L943,340.9L939.7,344.1L937.7,342.1L941,338.9L937.7,335.6L939.7,333.6ZM956.2,335.8L959.4,332.5L961.4,334.5L958.2,337.8L961.4,341L959.4,343L956.2,339.8L952.9,343L950.9,341L954.2,337.8L950.9,334.5L952.9,332.5ZM969.3,334.7L972.6,331.4L974.6,333.4L971.3,336.7L974.6,339.9L972.6,341.9L969.3,338.7L966.1,341.9L964.1,339.9L967.3,336.7L964.1,333.4L966.1,331.4ZM982.5,333.6L985.8,330.4L987.8,332.4L984.5,335.6L987.8,338.9L985.8,340.9L982.5,337.6L979.2,340.9L977.3,338.9L980.5,335.6L977.3,332.4L979.2,330.4ZM995.7,332.6L998.9,329.4L1000.9,331.4L997.7,334.6L1000.9,337.9L998.9,339.9L995.7,336.6L992.4,339.9L990.4,337.9L993.7,334.6L990.4,331.4L992.4,329.4ZM1008.9,331.7L1012.1,328.5L1014.1,330.4L1010.8,333.7L1014.1,337L1012.1,339L1008.9,335.7L1005.6,339L1003.6,337L1006.9,333.7L1003.6,330.4L1005.6,328.5ZM1022,330.8L1025.3,327.6L1027.3,329.6L1024,332.8L1027.3,336.1L1025.3,338.1L1022,334.8L1018.8,338.1L1016.8,336.1L1020,332.8L1016.8,329.6L1018.8,327.6ZM1035.2,330L1038.5,326.7L1040.4,328.7L1037.2,332L1040.4,335.2L1038.5,337.2L1035.2,334L1031.9,337.2L1029.9,335.2L1033.2,332L1029.9,328.7L1031.9,326.7ZM1048.4,329.2L1051.6,325.9L1053.6,327.9L1050.4,331.2L1053.6,334.4L1051.6,336.4L1048.4,333.2L1045.1,336.4L1043.1,334.4L1046.4,331.2L1043.1,327.9L1045.1,325.9ZM1061.5,328.4L1064.8,325.1L1066.8,327.1L1063.5,330.4L1066.8,333.6L1064.8,335.6L1061.5,332.4L1058.3,335.6L1056.3,333.6L1059.6,330.4L1056.3,327.1L1058.3,325.1ZM1074.7,327.6L1078,324.4L1080,326.4L1076.7,329.6L1080,332.9L1078,334.9L1074.7,331.6L1071.5,334.9L1069.5,332.9L1072.7,329.6L1069.5,326.4L1071.5,324.4ZM1087.9,326.9L1091.1,323.6L1093.1,325.6L1089.9,328.9L1093.1,332.2L1091.1,334.1L1087.9,330.9L1084.6,334.1L1082.6,332.2L1085.9,328.9L1082.6,325.6L1084.6,323.6ZM1101.1,326.2L1104.3,322.9L1106.3,324.9L1103.1,328.2L1106.3,331.4L1104.3,333.4L1101.1,330.2L1097.8,333.4L1095.8,331.4L1099.1,328.2L1095.8,324.9L1097.8,322.9ZM1114.2,325.5L1117.5,322.2L1119.5,324.2L1116.2,327.5L1119.5,330.8L1117.5,332.8L1114.2,329.5L1111,332.8L1109,330.8L1112.2,327.5L1109,324.2L1111,322.2ZM1127.4,324.8L1130.7,321.6L1132.7,323.6L1129.4,326.8L1132.7,330.1L1130.7,332.1L1127.4,328.8L1124.2,332.1L1122.2,330.1L1125.4,326.8L1122.2,323.6L1124.2,321.6ZM1140.6,324.2L1143.8,320.9L1145.8,322.9L1142.6,326.2L1145.8,329.4L1143.8,331.4L1140.6,328.2L1137.3,331.4L1135.3,329.4L1138.6,326.2L1135.3,322.9L1137.3,320.9ZM1153.8,323.6L1157,320.3L1159,322.3L1155.8,325.6L1159,328.8L1157,330.8L1153.8,327.6L1150.5,330.8L1148.5,328.8L1151.8,325.6L1148.5,322.3L1150.5,320.3ZM1166.9,323L1170.2,319.7L1172.2,321.7L1168.9,324.9L1172.2,328.2L1170.2,330.2L1166.9,326.9L1163.7,330.2L1161.7,328.2L1164.9,324.9L1161.7,321.7L1163.7,319.7ZM1180.1,322.4L1183.4,319.1L1185.4,321.1L1182.1,324.4L1185.4,327.6L1183.4,329.6L1180.1,326.4L1176.9,329.6L1174.9,327.6L1178.1,324.4L1174.9,321.1L1176.9,319.1ZM1193.3,321.8L1196.5,318.5L1198.5,320.5L1195.3,323.8L1198.5,327L1196.5,329L1193.3,325.8L1190,329L1188,327L1191.3,323.8L1188,320.5L1190,318.5ZM1206.5,321.2L1209.7,318L1211.7,320L1208.5,323.2L1211.7,326.5L1209.7,328.5L1206.5,325.2L1203.2,328.5L1201.2,326.5L1204.5,323.2L1201.2,320L1203.2,318ZM1219.6,320.7L1222.9,317.4L1224.9,319.4L1221.6,322.7L1224.9,325.9L1222.9,327.9L1219.6,324.7L1216.4,327.9L1214.4,325.9L1217.6,322.7L1214.4,319.4L1216.4,317.4ZM1232.8,320.2L1236.1,316.9L1238.1,318.9L1234.8,322.1L1238.1,325.4L1236.1,327.4L1232.8,324.1L1229.5,327.4L1227.6,325.4L1230.8,322.1L1227.6,318.9L1229.5,316.9ZM1246,319.6L1249.2,316.4L1251.2,318.4L1248,321.6L1251.2,324.9L1249.2,326.9L1246,323.6L1242.7,326.9L1240.7,324.9L1244,321.6L1240.7,318.4L1242.7,316.4ZM1259.1,319.1L1262.4,315.9L1264.4,317.9L1261.1,321.1L1264.4,324.4L1262.4,326.4L1259.1,323.1L1255.9,326.4L1253.9,324.4L1257.2,321.1L1253.9,317.9L1255.9,315.9ZM1272.3,318.6L1275.6,315.4L1277.6,317.4L1274.3,320.6L1277.6,323.9L1275.6,325.9L1272.3,322.6L1269.1,325.9L1267.1,323.9L1270.3,320.6L1267.1,317.4L1269.1,315.4ZM1285.5,318.1L1288.8,314.9L1290.7,316.9L1287.5,320.1L1290.7,323.4L1288.8,325.4L1285.5,322.1L1282.2,325.4L1280.2,323.4L1283.5,320.1L1280.2,316.9L1282.2,314.9ZM1298.7,317.7L1301.9,314.4L1303.9,316.4L1300.7,319.7L1303.9,322.9L1301.9,324.9L1298.7,321.7L1295.4,324.9L1293.4,322.9L1296.7,319.7L1293.4,316.4L1295.4,314.4ZM1311.8,317.2L1315.1,314L1317.1,316L1313.8,319.2L1317.1,322.5L1315.1,324.5L1311.8,321.2L1308.6,324.5L1306.6,322.5L1309.8,319.2L1306.6,316L1308.6,314ZM1325,316.8L1328.3,313.5L1330.3,315.5L1327,318.8L1330.3,322L1328.3,324L1325,320.8L1321.8,324L1319.8,322L1323,318.8L1319.8,315.5L1321.8,313.5Z" fill="#ff6347" stroke="#ff6347" stroke-width="1.0"/>
<path d="M780.9,15.4L788.9,15.4L788.9,23.4L780.9,23.4ZM794.1,345L802.1,345L802.1,353L794.1,353ZM807.2,349.8L815.2,349.8L815.2,357.8L807.2,357.8ZM820.4,351L828.4,351L828.4,359L820.4,359ZM833.6,350.8L841.6,350.8L841.6,358.8L833.6,358.8ZM846.8,349.5L854.8,349.5L854.8,357.5L846.8,357.5ZM859.9,347.5L867.9,347.5L867.9,355.5L859.9,355.5ZM873.1,345.7L881.1,345.7L881.1,353.7L873.1,353.7ZM886.3,344L894.3,344L894.3,352L886.3,352ZM899.5,342.5L907.5,342.5L907.5,350.5L899.5,350.5ZM912.6,341L920.6,341L920.6,349L912.6,349ZM925.8,339.6L933.8,339.6L933.8,347.6L925.8,347.6ZM939,338.2L947,338.2L947,346.2L939,346.2ZM952.2,336.8L960.2,336.8L960.2,344.8L952.2,344.8ZM965.3,335.5L973.3,335.5L973.3,343.5L965.3,343.5ZM978.5,334.3L986.5,334.3L986.5,342.3L978.5,342.3ZM991.7,333.2L999.7,333.2L999.7,341.2L991.7,341.2ZM1004.9,332.2L1012.9,332.2L1012.9,340.2L1004.9,340.2ZM1018,331.2L1026,331.2L1026,339.2L1018,339.2ZM1031.2,330.2L1039.2,330.2L1039.2,338.2L1031.2,338.2ZM1044.4,329.4L1052.4,329.4L1052.4,337.4L1044.4,337.4ZM1057.5,328.5L1065.5,328.5L1065.5,336.5L1057.5,336.5ZM1070.7,327.7L1078.7,327.7L1078.7,335.7L1070.7,335.7ZM1083.9,327L1091.9,327L1091.9,335L1083.9,335ZM1097.1,326.2L1105.1,326.2L1105.1,334.2L1097.1,334.2ZM1110.2,325.5L1118.2,325.5L1118.2,333.5L1110.2,333.5ZM1123.4,324.8L1131.4,324.8L1131.4,332.8L1123.4,332.8ZM1136.6,324.2L1144.6,324.2L1144.6,332.2L1136.6,332.2ZM1149.8,323.5L1157.8,323.5L1157.8,331.5L1149.8,331.5ZM1162.9,322.9L1170.9,322.9L1170.9,330.9L1162.9,330.9ZM1176.1,322.3L1184.1,322.3L1184.1,330.3L1176.1,330.3ZM1189.3,321.8L1197.3,321.8L1197.3,329.8L1189.3,329.8ZM1202.5,321.2L1210.5,321.2L1210.5,329.2L1202.5,329.2ZM1215.6,320.7L1223.6,320.7L1223.6,328.7L1215.6,328.7ZM1228.8,320.1L1236.8,320.1L1236.8,328.1L1228.8,328.1ZM1242,319.6L1250,319.6L1250,327.6L1242,327.6ZM1255.1,319.1L1263.1,319.1L1263.1,327.1L1255.1,327.1ZM1268.3,318.6L1276.3,318.6L1276.3,326.6L1268.3,326.6ZM1281.5,318.1L1289.5,318.1L1289.5,326.1L1281.5,326.1ZM1294.7,317.7L1302.7,317.7L1302.7,325.7L1294.7,325.7ZM1307.8,317.2L1315.8,317.2L1315.8,325.2L1307.8,325.2ZM1321,316.8L1329,316.8L1329,324.8L1321,324.8Z" fill="#ffa500" stroke="#ffa500" stroke-width="1.0"/>
<path d="M784.9,15.1L789.1,23.6L780.6,23.6ZM798.1,296.2L802.3,304.8L793.8,304.8ZM811.2,312.8L815.5,321.2L807,321.2ZM824.4,320.2L828.7,328.8L820.2,328.8ZM837.6,324.8L841.8,333.2L833.3,333.2ZM850.8,327.8L855,336.2L846.5,336.2ZM863.9,328.9L868.2,337.4L859.7,337.4ZM877.1,329.2L881.4,337.7L872.9,337.7ZM890.3,329.3L894.5,337.8L886,337.8ZM903.5,329.3L907.7,337.8L899.2,337.8ZM916.6,329.2L920.9,337.7L912.4,337.7ZM929.8,329L934.1,337.5L925.6,337.5ZM943,328.8L947.2,337.3L938.7,337.3ZM956.2,328.5L960.4,337L951.9,337ZM969.3,328.2L973.6,336.7L965.1,336.7ZM982.5,327.8L986.8,336.3L978.3,336.3ZM995.7,327.5L999.9,336L991.4,336ZM1008.9,327.1L1013.1,335.6L1004.6,335.6ZM1022,326.7L1026.3,335.2L1017.8,335.2ZM1035.2,326.2L1039.4,334.7L1030.9,334.7ZM1048.4,325.7L1052.6,334.2L1044.1,334.2ZM1061.5,325.1L1065.8,333.6L1057.3,333.6ZM1074.7,324.5L1079,333L1070.5,333ZM1087.9,323.9L1092.1,332.4L1083.6,332.4ZM1101.1,323.3L1105.3,331.8L1096.8,331.8ZM1114.2,322.8L1118.5,331.2L1110,331.2ZM1127.4,322.2L1131.7,330.7L1123.2,330.7ZM1140.6,321.7L1144.8,330.2L1136.3,330.2ZM1153.8,321.1L1158,329.6L1149.5,329.6ZM1166.9,320.6L1171.2,329.1L1162.7,329.1ZM1180.1,320L1184.4,328.5L1175.9,328.5ZM1193.3,319.5L1197.5,328L1189,328ZM1206.5,318.9L1210.7,327.4L1202.2,327.4ZM1219.6,318.4L1223.9,326.9L1215.4,326.9ZM1232.8,317.9L1237.1,326.4L1228.6,326.4ZM1246,317.4L1250.2,325.9L1241.7,325.9ZM1259.1,316.9L1263.4,325.4L1254.9,325.4ZM1272.3,316.4L1276.6,324.9L1268.1,324.9ZM1285.5,315.9L1289.7,324.4L1281.2,324.4ZM1298.7,315.5L1302.9,324L1294.4,324ZM1311.8,315L1316.1,323.5L1307.6,323.5ZM1325,314.6L1329.3,323.1L1320.8,323.1Z" fill="#800080" stroke="#800080" stroke-width="1.0"/>
<path d="M784.9,19.4L785.6,138.1L786.4,206L787.6,249.4L789.2,275L790.2,282.8L791.4,288.5L793.1,293.3L795.5,297.9L800.8,306.1L803.8,309.8L809,314.4L815.1,318.3L825.2,322.9L839.2,327.9L844.3,329.2L856.9,331.4L867.6,332.6L874.8,333L894,333.3L958.2,332.9L1023.7,330.9L1117.9,327.5L1333.8,319" fill="none" stroke="#000080" stroke-width="1.7" stroke-linejoin="round"/>
<path d="M784.9,19.4L785.6,140L786.3,208.7L787.2,254.2L788.5,282L789.5,293.1L790.6,300.9L792.2,308.4L794.4,314.9L796.6,319.7L798.6,322.7L802.8,326.8L807.3,329.9L813.7,332.6L821.5,334.9L832.5,337.1L844.2,338.8L868.7,340.9L896.7,340.8L912.2,340.1L984.3,335.4L1109.7,328.2L1180.1,325.1L1333.8,319" fill="none" stroke="#000080" stroke-width="1.7" stroke-linejoin="round"/>
<path d="M784.9,19.4L786.2,217.7L786.9,259.3L788.2,292L790,313.5L791.1,319.6L792.5,324.9L795.2,331.6L797.4,335.6L800.7,338.8L804.6,341.5L808,343L812.6,344.3L818.9,345.7L824.6,346.5L829.9,346.8L853.5,346.5L897.2,343.3L943.9,339L975.1,336.5L1051.1,331.5L1150.6,326.5L1333.8,319" fill="none" stroke="#000080" stroke-width="1.7" stroke-linejoin="round"/>
<path d="M784.9,19.4L786.1,215.7L786.7,265.1L787.7,296.1L789.6,321.2L791,331.9L792.6,340.1L793.5,343.3L794.8,345.8L800.8,352.5L804.9,354.3L809.1,355.2L815.4,355.6L823.4,355.2L843.7,353.1L874,348.5L943.4,340.1L985.9,336.2L1029.6,333.1L1083.7,330.1L1160.5,326.3L1333.8,319.2" fill="none" stroke="#000080" stroke-width="1.7" stroke-linejoin="round"/>
</g>
<rect x="752.9" y="1.4" width="580.9" height="378" fill="none" stroke="#000" stroke-width="1.15"/>
<line x1="784.9" y1="379.4" x2="784.9" y2="382.9" stroke="#000" stroke-width="1.1"/>
<line x1="894.68" y1="379.4" x2="894.68" y2="382.9" stroke="#000" stroke-width="1.1"/>
<line x1="1004.46" y1="379.4" x2="1004.46" y2="382.9" stroke="#000" stroke-width="1.1"/>
<line x1="1114.24" y1="379.4" x2="1114.24" y2="382.9" stroke="#000" stroke-width="1.1"/>
<line x1="1224.02" y1="379.4" x2="1224.02" y2="382.9" stroke="#000" stroke-width="1.1"/>
<line x1="1333.8" y1="379.4" x2="1333.8" y2="382.9" stroke="#000" stroke-width="1.1"/>
<line x1="749.4" y1="368.4" x2="752.9" y2="368.4" stroke="#000" stroke-width="1.1"/>
<line x1="749.4" y1="218.1" x2="752.9" y2="218.1" stroke="#000" stroke-width="1.1"/>
<line x1="749.4" y1="130.17" x2="752.9" y2="130.17" stroke="#000" stroke-width="1.1"/>
<line x1="749.4" y1="67.79" x2="752.9" y2="67.79" stroke="#000" stroke-width="1.1"/>
<line x1="749.4" y1="19.4" x2="752.9" y2="19.4" stroke="#000" stroke-width="1.1"/>
<text transform="translate(747.8,376.4)" x="-33.87" font-size="22.58" textLength="33.87" lengthAdjust="spacingAndGlyphs">0.1</text>
<text transform="translate(747.8,226.1)" x="-33.87" font-size="22.58" textLength="33.87" lengthAdjust="spacingAndGlyphs">0.2</text>
<text transform="translate(747.8,138.17)" x="-33.87" font-size="22.58" textLength="33.87" lengthAdjust="spacingAndGlyphs">0.3</text>
<text transform="translate(747.8,75.79)" x="-33.87" font-size="22.58" textLength="33.87" lengthAdjust="spacingAndGlyphs">0.4</text>
<text transform="translate(747.8,27.4)" x="-33.87" font-size="22.58" textLength="33.87" lengthAdjust="spacingAndGlyphs">0.5</text>
<text transform="translate(784.9,400.3)" x="-6.78" font-size="22.58" textLength="13.55" lengthAdjust="spacingAndGlyphs">0</text>
<text transform="translate(894.68,400.3)" x="-13.55" font-size="22.58" textLength="27.1" lengthAdjust="spacingAndGlyphs">20</text>
<text transform="translate(1004.46,400.3)" x="-13.55" font-size="22.58" textLength="27.1" lengthAdjust="spacingAndGlyphs">40</text>
<text transform="translate(1114.24,400.3)" x="-13.55" font-size="22.58" textLength="27.1" lengthAdjust="spacingAndGlyphs">60</text>
<text transform="translate(1224.02,400.3)" x="-13.55" font-size="22.58" textLength="27.1" lengthAdjust="spacingAndGlyphs">80</text>
<text transform="translate(1333.8,400.3)" x="-20.33" font-size="22.58" textLength="40.66" lengthAdjust="spacingAndGlyphs">100</text>
<text transform="translate(1043,433.6)" x="-6.96" font-size="37.63" textLength="13.92" lengthAdjust="spacingAndGlyphs" stroke="#fff" stroke-width="0.8">t</text>
<rect x="804.0" y="15.7" width="208.0" height="252.8" rx="3.5" fill="#fff" fill-opacity="0.8" stroke="#cccccc" stroke-opacity="0.8" stroke-width="1"/>
<line x1="811.3" y1="43" x2="849.5" y2="43" stroke="#800080" stroke-width="1.2" stroke-dasharray="3.7,2.0"/>
<path d="M830.8,38.8L835,47.2L826.5,47.2Z" fill="#800080" stroke="#800080" stroke-width="1.0"/>
<text transform="translate(865,36.7)" x="0" font-size="19.23" textLength="141.43" lengthAdjust="spacingAndGlyphs">Persistent-SGD</text>
<text transform="translate(865,57.4)" x="0" font-size="19.23" textLength="109.1" lengthAdjust="spacingAndGlyphs">(1/τ = 0.15)</text>
<line x1="811.3" y1="91.1" x2="849.5" y2="91.1" stroke="#1e90ff" stroke-width="1.2" stroke-dasharray="3.7,2.0"/>
<path d="M826.2,91.1a4.6,4.6 0 1,0 9.2,0a4.6,4.6 0 1,0 -9.2,0Z" fill="#1e90ff" stroke="#1e90ff" stroke-width="1.0"/>
<text transform="translate(865,85.1)" x="0" font-size="19.23" textLength="141.43" lengthAdjust="spacingAndGlyphs">Persistent-SGD</text>
<text transform="translate(865,105.8)" x="0" font-size="19.23" textLength="97.6" lengthAdjust="spacingAndGlyphs">(1/τ = 0.3)</text>
<line x1="811.3" y1="139.5" x2="849.5" y2="139.5" stroke="#ff6347" stroke-width="1.2" stroke-dasharray="3.7,2.0"/>
<path d="M830.8,137.3L834.4,133.8L836.5,135.9L833,139.5L836.5,143.1L834.4,145.2L830.8,141.7L827.2,145.2L825,143.1L828.6,139.5L825,135.9L827.2,133.8Z" fill="#ff6347" stroke="#ff6347" stroke-width="1.0"/>
<text transform="translate(865,133.5)" x="0" font-size="19.23" textLength="141.43" lengthAdjust="spacingAndGlyphs">Persistent-SGD</text>
<text transform="translate(865,154.2)" x="0" font-size="19.23" textLength="97.6" lengthAdjust="spacingAndGlyphs">(1/τ = 0.6)</text>
<line x1="811.3" y1="175.7" x2="849.5" y2="175.7" stroke="#ffa500" stroke-width="1.2" stroke-dasharray="3.7,2.0"/>
<path d="M826.5,171.4L835,171.4L835,179.9L826.5,179.9Z" fill="#ffa500" stroke="#ffa500" stroke-width="1.0"/>
<text transform="translate(865,182.6)" x="0" font-size="19.23" textLength="40.98" lengthAdjust="spacingAndGlyphs">SGD</text>
<line x1="811.3" y1="203.4" x2="849.5" y2="203.4" stroke="#000080" stroke-width="2"/>
<text transform="translate(865,208.9)" x="0" font-size="19.23" textLength="65.32" lengthAdjust="spacingAndGlyphs">Theory</text>
<line x1="811.3" y1="243.1" x2="849.5" y2="243.1" stroke="#808080" stroke-width="1.8" stroke-dasharray="6.4,2.8"/>
<text transform="translate(865,237.6)" x="0" font-size="19.23" textLength="63.69" lengthAdjust="spacingAndGlyphs">Bayes-</text>
<text transform="translate(865,257.8)" x="0" font-size="19.23" textLength="71.09" lengthAdjust="spacingAndGlyphs">optimal</text>
<rect x="1066.9" y="43.6" width="254.7" height="169.9" fill="#fff"/>
<line x1="1080.6" y1="43.6" x2="1080.6" y2="213.5" stroke="#b8b8b8" stroke-width="0.9"/>
<line x1="1128.8" y1="43.6" x2="1128.8" y2="213.5" stroke="#b8b8b8" stroke-width="0.9"/>
<line x1="1177" y1="43.6" x2="1177" y2="213.5" stroke="#b8b8b8" stroke-width="0.9"/>
<line x1="1225.2" y1="43.6" x2="1225.2" y2="213.5" stroke="#b8b8b8" stroke-width="0.9"/>
<line x1="1273.4" y1="43.6" x2="1273.4" y2="213.5" stroke="#b8b8b8" stroke-width="0.9"/>
<line x1="1321.6" y1="43.6" x2="1321.6" y2="213.5" stroke="#b8b8b8" stroke-width="0.9"/>
<line x1="1066.9" y1="205.3" x2="1321.6" y2="205.3" stroke="#b8b8b8" stroke-width="0.9"/>
<line x1="1066.9" y1="174.28" x2="1321.6" y2="174.28" stroke="#b8b8b8" stroke-width="0.9"/>
<line x1="1066.9" y1="143.26" x2="1321.6" y2="143.26" stroke="#b8b8b8" stroke-width="0.9"/>
<line x1="1066.9" y1="112.24" x2="1321.6" y2="112.24" stroke="#b8b8b8" stroke-width="0.9"/>
<line x1="1066.9" y1="81.22" x2="1321.6" y2="81.22" stroke="#b8b8b8" stroke-width="0.9"/>
<line x1="1066.9" y1="50.2" x2="1321.6" y2="50.2" stroke="#b8b8b8" stroke-width="0.9"/>
<g clip-path="url(#cRI)">
<path d="M1080.6,202.8L1083.1,207.8L1078.1,207.8ZM1090.2,73.3L1092.7,78.3L1087.7,78.3ZM1099.9,68.3L1102.4,73.3L1097.4,73.3ZM1109.5,64.9L1112,69.9L1107,69.9ZM1119.2,62.7L1121.7,67.7L1116.7,67.7ZM1128.8,61.2L1131.3,66.2L1126.3,66.2ZM1138.4,59.9L1140.9,64.9L1135.9,64.9ZM1148.1,58.7L1150.6,63.7L1145.6,63.7ZM1157.7,57.6L1160.2,62.6L1155.2,62.6ZM1167.4,56.7L1169.9,61.7L1164.9,61.7ZM1177,55.9L1179.5,60.9L1174.5,60.9ZM1186.6,55.2L1189.1,60.2L1184.1,60.2ZM1196.3,54.6L1198.8,59.6L1193.8,59.6ZM1205.9,54L1208.4,59L1203.4,59ZM1215.6,53.5L1218.1,58.5L1213.1,58.5ZM1225.2,53.1L1227.7,58.1L1222.7,58.1ZM1234.8,52.8L1237.3,57.8L1232.3,57.8ZM1244.5,52.5L1247,57.5L1242,57.5ZM1254.1,52.2L1256.6,57.2L1251.6,57.2ZM1263.8,51.9L1266.3,56.9L1261.3,56.9ZM1273.4,51.7L1275.9,56.7L1270.9,56.7ZM1283,51.6L1285.5,56.6L1280.5,56.6ZM1292.7,51.4L1295.2,56.4L1290.2,56.4ZM1302.3,51.3L1304.8,56.3L1299.8,56.3ZM1312,51.2L1314.5,56.2L1309.5,56.2ZM1321.6,51.1L1324.1,56.1L1319.1,56.1Z" fill="#800080" stroke="#800080" stroke-width="0.6"/>
<path d="M1078.5,205.3a2.1,2.1 0 1,0 4.2,0a2.1,2.1 0 1,0 -4.2,0ZM1088.1,72.1a2.1,2.1 0 1,0 4.2,0a2.1,2.1 0 1,0 -4.2,0ZM1097.8,67.9a2.1,2.1 0 1,0 4.2,0a2.1,2.1 0 1,0 -4.2,0ZM1107.4,65.1a2.1,2.1 0 1,0 4.2,0a2.1,2.1 0 1,0 -4.2,0ZM1117.1,63.2a2.1,2.1 0 1,0 4.2,0a2.1,2.1 0 1,0 -4.2,0ZM1126.7,61.7a2.1,2.1 0 1,0 4.2,0a2.1,2.1 0 1,0 -4.2,0ZM1136.3,60.6a2.1,2.1 0 1,0 4.2,0a2.1,2.1 0 1,0 -4.2,0ZM1146,59.5a2.1,2.1 0 1,0 4.2,0a2.1,2.1 0 1,0 -4.2,0ZM1155.6,58.5a2.1,2.1 0 1,0 4.2,0a2.1,2.1 0 1,0 -4.2,0ZM1165.3,57.7a2.1,2.1 0 1,0 4.2,0a2.1,2.1 0 1,0 -4.2,0ZM1174.9,57a2.1,2.1 0 1,0 4.2,0a2.1,2.1 0 1,0 -4.2,0ZM1184.5,56.4a2.1,2.1 0 1,0 4.2,0a2.1,2.1 0 1,0 -4.2,0ZM1194.2,55.9a2.1,2.1 0 1,0 4.2,0a2.1,2.1 0 1,0 -4.2,0ZM1203.8,55.4a2.1,2.1 0 1,0 4.2,0a2.1,2.1 0 1,0 -4.2,0ZM1213.5,55a2.1,2.1 0 1,0 4.2,0a2.1,2.1 0 1,0 -4.2,0ZM1223.1,54.7a2.1,2.1 0 1,0 4.2,0a2.1,2.1 0 1,0 -4.2,0ZM1232.7,54.3a2.1,2.1 0 1,0 4.2,0a2.1,2.1 0 1,0 -4.2,0ZM1242.4,54.1a2.1,2.1 0 1,0 4.2,0a2.1,2.1 0 1,0 -4.2,0ZM1252,53.8a2.1,2.1 0 1,0 4.2,0a2.1,2.1 0 1,0 -4.2,0ZM1261.7,53.6a2.1,2.1 0 1,0 4.2,0a2.1,2.1 0 1,0 -4.2,0ZM1271.3,53.5a2.1,2.1 0 1,0 4.2,0a2.1,2.1 0 1,0 -4.2,0ZM1280.9,53.3a2.1,2.1 0 1,0 4.2,0a2.1,2.1 0 1,0 -4.2,0ZM1290.6,53.2a2.1,2.1 0 1,0 4.2,0a2.1,2.1 0 1,0 -4.2,0ZM1300.2,53.1a2.1,2.1 0 1,0 4.2,0a2.1,2.1 0 1,0 -4.2,0ZM1309.9,53a2.1,2.1 0 1,0 4.2,0a2.1,2.1 0 1,0 -4.2,0ZM1319.5,52.9a2.1,2.1 0 1,0 4.2,0a2.1,2.1 0 1,0 -4.2,0Z" fill="#1e90ff" stroke="#1e90ff" stroke-width="0.6"/>
<path d="M1078.2,202.9L1083,202.9L1083,207.7L1078.2,207.7ZM1087.8,61.4L1092.6,61.4L1092.6,66.2L1087.8,66.2ZM1097.5,58.8L1102.3,58.8L1102.3,63.6L1097.5,63.6ZM1107.1,57.3L1111.9,57.3L1111.9,62.1L1107.1,62.1ZM1116.8,55.8L1121.6,55.8L1121.6,60.6L1116.8,60.6ZM1126.4,54.6L1131.2,54.6L1131.2,59.4L1126.4,59.4ZM1136,53.7L1140.8,53.7L1140.8,58.5L1136,58.5ZM1145.7,52.9L1150.5,52.9L1150.5,57.7L1145.7,57.7ZM1155.3,52.2L1160.1,52.2L1160.1,57L1155.3,57ZM1165,51.5L1169.8,51.5L1169.8,56.3L1165,56.3ZM1174.6,51.1L1179.4,51.1L1179.4,55.9L1174.6,55.9ZM1184.2,50.7L1189,50.7L1189,55.5L1184.2,55.5ZM1193.9,50.3L1198.7,50.3L1198.7,55.1L1193.9,55.1ZM1203.5,50L1208.3,50L1208.3,54.8L1203.5,54.8ZM1213.2,49.7L1218,49.7L1218,54.5L1213.2,54.5ZM1222.8,49.5L1227.6,49.5L1227.6,54.3L1222.8,54.3ZM1232.4,49.3L1237.2,49.3L1237.2,54.1L1232.4,54.1ZM1242.1,49.1L1246.9,49.1L1246.9,53.9L1242.1,53.9ZM1251.7,49L1256.5,49L1256.5,53.8L1251.7,53.8ZM1261.4,48.8L1266.2,48.8L1266.2,53.6L1261.4,53.6ZM1271,48.7L1275.8,48.7L1275.8,53.5L1271,53.5ZM1280.6,48.6L1285.4,48.6L1285.4,53.4L1280.6,53.4ZM1290.3,48.6L1295.1,48.6L1295.1,53.4L1290.3,53.4ZM1299.9,48.5L1304.7,48.5L1304.7,53.3L1299.9,53.3ZM1309.6,48.4L1314.4,48.4L1314.4,53.2L1309.6,53.2ZM1319.2,48.4L1324,48.4L1324,53.2L1319.2,53.2Z" fill="#ffa500" stroke="#ffa500" stroke-width="0.6"/>
<path d="M1080.6,204.2L1082.5,202.3L1083.6,203.4L1081.7,205.3L1083.6,207.2L1082.5,208.3L1080.6,206.4L1078.7,208.3L1077.6,207.2L1079.5,205.3L1077.6,203.4L1078.7,202.3ZM1090.2,64.7L1092.1,62.9L1093.2,64L1091.4,65.9L1093.2,67.7L1092.1,68.9L1090.2,67L1088.4,68.9L1087.2,67.7L1089.1,65.9L1087.2,64L1088.4,62.9ZM1099.9,61.6L1101.7,59.7L1102.9,60.9L1101,62.7L1102.9,64.6L1101.7,65.7L1099.9,63.9L1098,65.7L1096.9,64.6L1098.7,62.7L1096.9,60.9L1098,59.7ZM1109.5,59.6L1111.4,57.8L1112.5,58.9L1110.7,60.8L1112.5,62.6L1111.4,63.8L1109.5,61.9L1107.7,63.8L1106.5,62.6L1108.4,60.8L1106.5,58.9L1107.7,57.8ZM1119.2,58L1121,56.1L1122.2,57.2L1120.3,59.1L1122.2,61L1121,62.1L1119.2,60.2L1117.3,62.1L1116.2,61L1118,59.1L1116.2,57.2L1117.3,56.1ZM1128.8,56.7L1130.7,54.8L1131.8,55.9L1129.9,57.8L1131.8,59.7L1130.7,60.8L1128.8,58.9L1126.9,60.8L1125.8,59.7L1127.7,57.8L1125.8,55.9L1126.9,54.8ZM1138.4,55.6L1140.3,53.8L1141.4,54.9L1139.6,56.8L1141.4,58.6L1140.3,59.8L1138.4,57.9L1136.6,59.8L1135.4,58.6L1137.3,56.8L1135.4,54.9L1136.6,53.8ZM1148.1,54.7L1149.9,52.9L1151.1,54L1149.2,55.9L1151.1,57.7L1149.9,58.9L1148.1,57L1146.2,58.9L1145.1,57.7L1146.9,55.9L1145.1,54L1146.2,52.9ZM1157.7,53.9L1159.6,52.1L1160.7,53.2L1158.9,55.1L1160.7,56.9L1159.6,58.1L1157.7,56.2L1155.9,58.1L1154.7,56.9L1156.6,55.1L1154.7,53.2L1155.9,52.1ZM1167.4,53.2L1169.2,51.4L1170.4,52.5L1168.5,54.4L1170.4,56.2L1169.2,57.4L1167.4,55.5L1165.5,57.4L1164.4,56.2L1166.2,54.4L1164.4,52.5L1165.5,51.4ZM1177,52.7L1178.9,50.8L1180,51.9L1178.1,53.8L1180,55.7L1178.9,56.8L1177,54.9L1175.1,56.8L1174,55.7L1175.9,53.8L1174,51.9L1175.1,50.8ZM1186.6,52.2L1188.5,50.3L1189.6,51.5L1187.8,53.3L1189.6,55.2L1188.5,56.3L1186.6,54.5L1184.8,56.3L1183.6,55.2L1185.5,53.3L1183.6,51.5L1184.8,50.3ZM1196.3,51.8L1198.1,49.9L1199.3,51L1197.4,52.9L1199.3,54.8L1198.1,55.9L1196.3,54L1194.4,55.9L1193.3,54.8L1195.1,52.9L1193.3,51L1194.4,49.9ZM1205.9,51.4L1207.8,49.5L1208.9,50.7L1207.1,52.5L1208.9,54.4L1207.8,55.5L1205.9,53.7L1204.1,55.5L1202.9,54.4L1204.8,52.5L1202.9,50.7L1204.1,49.5ZM1215.6,51.1L1217.4,49.2L1218.6,50.4L1216.7,52.2L1218.6,54.1L1217.4,55.2L1215.6,53.4L1213.7,55.2L1212.6,54.1L1214.4,52.2L1212.6,50.4L1213.7,49.2ZM1225.2,50.8L1227.1,48.9L1228.2,50.1L1226.3,51.9L1228.2,53.8L1227.1,54.9L1225.2,53.1L1223.3,54.9L1222.2,53.8L1224.1,51.9L1222.2,50.1L1223.3,48.9ZM1234.8,50.6L1236.7,48.7L1237.8,49.8L1236,51.7L1237.8,53.6L1236.7,54.7L1234.8,52.8L1233,54.7L1231.8,53.6L1233.7,51.7L1231.8,49.8L1233,48.7ZM1244.5,50.4L1246.3,48.5L1247.5,49.6L1245.6,51.5L1247.5,53.4L1246.3,54.5L1244.5,52.6L1242.6,54.5L1241.5,53.4L1243.3,51.5L1241.5,49.6L1242.6,48.5ZM1254.1,50.2L1256,48.3L1257.1,49.4L1255.3,51.3L1257.1,53.2L1256,54.3L1254.1,52.4L1252.3,54.3L1251.1,53.2L1253,51.3L1251.1,49.4L1252.3,48.3ZM1263.8,50L1265.6,48.1L1266.8,49.3L1264.9,51.1L1266.8,53L1265.6,54.1L1263.8,52.3L1261.9,54.1L1260.8,53L1262.6,51.1L1260.8,49.3L1261.9,48.1ZM1273.4,49.9L1275.3,48L1276.4,49.2L1274.5,51L1276.4,52.9L1275.3,54L1273.4,52.2L1271.5,54L1270.4,52.9L1272.3,51L1270.4,49.2L1271.5,48ZM1283,49.8L1284.9,47.9L1286,49L1284.2,50.9L1286,52.8L1284.9,53.9L1283,52L1281.2,53.9L1280,52.8L1281.9,50.9L1280,49L1281.2,47.9ZM1292.7,49.7L1294.5,47.8L1295.7,49L1293.8,50.8L1295.7,52.7L1294.5,53.8L1292.7,52L1290.8,53.8L1289.7,52.7L1291.5,50.8L1289.7,49L1290.8,47.8ZM1302.3,49.6L1304.2,47.7L1305.3,48.9L1303.5,50.7L1305.3,52.6L1304.2,53.7L1302.3,51.9L1300.5,53.7L1299.3,52.6L1301.2,50.7L1299.3,48.9L1300.5,47.7ZM1312,49.5L1313.8,47.7L1315,48.8L1313.1,50.7L1315,52.5L1313.8,53.7L1312,51.8L1310.1,53.7L1309,52.5L1310.8,50.7L1309,48.8L1310.1,47.7ZM1321.6,49.5L1323.5,47.6L1324.6,48.8L1322.7,50.6L1324.6,52.5L1323.5,53.6L1321.6,51.8L1319.7,53.6L1318.6,52.5L1320.5,50.6L1318.6,48.8L1319.7,47.6Z" fill="#ff6347" stroke="#ff6347" stroke-width="0.6"/>
<path d="M1080.6,205.3L1081.1,126.2L1082,95.6L1082.9,86.9L1084.1,81.4L1086.2,78.1L1089,75.7L1095.7,72L1101,69.5L1106.7,67.4L1113,65.8L1121,64.1L1131.5,62.5L1160.5,59.1L1191.7,56.6L1225,54.9L1267.3,53.6L1321.6,52.8" fill="none" stroke="#000080" stroke-width="1.15" stroke-linejoin="round"/>
<path d="M1080.6,205.3L1081.1,121.8L1081.9,93.1L1082.8,84.1L1084,78.2L1085.8,75.1L1088.7,72.4L1094.6,69.5L1100.2,67.3L1106.5,65.4L1114,63.7L1132.9,60.8L1161.8,57.7L1192.1,55.7L1225.7,54.2L1267.5,53.1L1321.6,52.5" fill="none" stroke="#000080" stroke-width="1.15" stroke-linejoin="round"/>
<path d="M1080.6,205.3L1081.1,119.6L1081.8,91.4L1082.7,81.1L1083.9,75.3L1085.5,71.7L1088.4,69.2L1093.1,67L1099.1,65L1116.2,61.4L1135.5,58.9L1163.2,56.4L1192.9,54.7L1227,53.5L1267.9,52.6L1321.6,52.1" fill="none" stroke="#000080" stroke-width="1.15" stroke-linejoin="round"/>
<path d="M1080.6,205.3L1081,117.7L1081.7,89.1L1082.6,77.9L1083.6,72.7L1085.3,68.3L1088.1,65.8L1091.5,64.2L1097.5,62.6L1120.7,58.9L1140.4,56.8L1164.9,55L1193.6,53.7L1228.6,52.8L1268.4,52.1L1321.6,51.8" fill="none" stroke="#000080" stroke-width="1.15" stroke-linejoin="round"/>
</g>
<rect x="1066.9" y="43.6" width="254.7" height="169.9" fill="none" stroke="#000" stroke-width="1.2"/>
<line x1="1080.6" y1="213.5" x2="1080.6" y2="216.7" stroke="#000" stroke-width="1"/>
<line x1="1128.8" y1="213.5" x2="1128.8" y2="216.7" stroke="#000" stroke-width="1"/>
<line x1="1177" y1="213.5" x2="1177" y2="216.7" stroke="#000" stroke-width="1"/>
<line x1="1225.2" y1="213.5" x2="1225.2" y2="216.7" stroke="#000" stroke-width="1"/>
<line x1="1273.4" y1="213.5" x2="1273.4" y2="216.7" stroke="#000" stroke-width="1"/>
<line x1="1321.6" y1="213.5" x2="1321.6" y2="216.7" stroke="#000" stroke-width="1"/>
<line x1="1063.7" y1="205.3" x2="1066.9" y2="205.3" stroke="#000" stroke-width="1"/>
<line x1="1063.7" y1="174.28" x2="1066.9" y2="174.28" stroke="#000" stroke-width="1"/>
<line x1="1063.7" y1="143.26" x2="1066.9" y2="143.26" stroke="#000" stroke-width="1"/>
<line x1="1063.7" y1="112.24" x2="1066.9" y2="112.24" stroke="#000" stroke-width="1"/>
<line x1="1063.7" y1="81.22" x2="1066.9" y2="81.22" stroke="#000" stroke-width="1"/>
<line x1="1063.7" y1="50.2" x2="1066.9" y2="50.2" stroke="#000" stroke-width="1"/>
<text transform="translate(1061.6,210.9)" x="-8.53" font-size="14.2" textLength="8.53" lengthAdjust="spacingAndGlyphs">0</text>
<text transform="translate(1061.6,179.88)" x="-17.05" font-size="14.2" textLength="17.05" lengthAdjust="spacingAndGlyphs">20</text>
<text transform="translate(1061.6,148.86)" x="-17.05" font-size="14.2" textLength="17.05" lengthAdjust="spacingAndGlyphs">40</text>
<text transform="translate(1061.6,117.84)" x="-17.05" font-size="14.2" textLength="17.05" lengthAdjust="spacingAndGlyphs">60</text>
<text transform="translate(1061.6,86.82)" x="-17.05" font-size="14.2" textLength="17.05" lengthAdjust="spacingAndGlyphs">80</text>
<text transform="translate(1061.6,55.8)" x="-25.58" font-size="14.2" textLength="25.58" lengthAdjust="spacingAndGlyphs">100</text>
<text transform="translate(1080.6,228.4)" x="-4.26" font-size="14.2" textLength="8.53" lengthAdjust="spacingAndGlyphs">0</text>
<text transform="translate(1128.8,228.4)" x="-8.53" font-size="14.2" textLength="17.05" lengthAdjust="spacingAndGlyphs">20</text>
<text transform="translate(1177,228.4)" x="-8.53" font-size="14.2" textLength="17.05" lengthAdjust="spacingAndGlyphs">40</text>
<text transform="translate(1225.2,228.4)" x="-8.53" font-size="14.2" textLength="17.05" lengthAdjust="spacingAndGlyphs">60</text>
<text transform="translate(1273.4,228.4)" x="-8.53" font-size="14.2" textLength="17.05" lengthAdjust="spacingAndGlyphs">80</text>
<text transform="translate(1321.6,228.4)" x="-12.79" font-size="14.2" textLength="25.58" lengthAdjust="spacingAndGlyphs">100</text>
<text transform="translate(1194.25,249.6)" x="-3.69" font-size="19.93" textLength="7.37" lengthAdjust="spacingAndGlyphs">t</text>
<text transform="translate(1028.2,128.2) rotate(-90)" x="-106.42" font-size="20.56" textLength="212.83" lengthAdjust="spacingAndGlyphs">Training accuracy (%)</text>
<g transform="translate(700.7,223.2) rotate(-90)">
<text transform="translate(0.3,0)" x="0" font-size="36.04" textLength="16.8" lengthAdjust="spacingAndGlyphs" font-style="italic" stroke="#fff" stroke-width="0.9">ε</text>
<text transform="translate(18.8,4.8)" x="0" font-size="24.8" textLength="44.08" lengthAdjust="spacingAndGlyphs">gen</text>
</g>
</svg></body></html>
